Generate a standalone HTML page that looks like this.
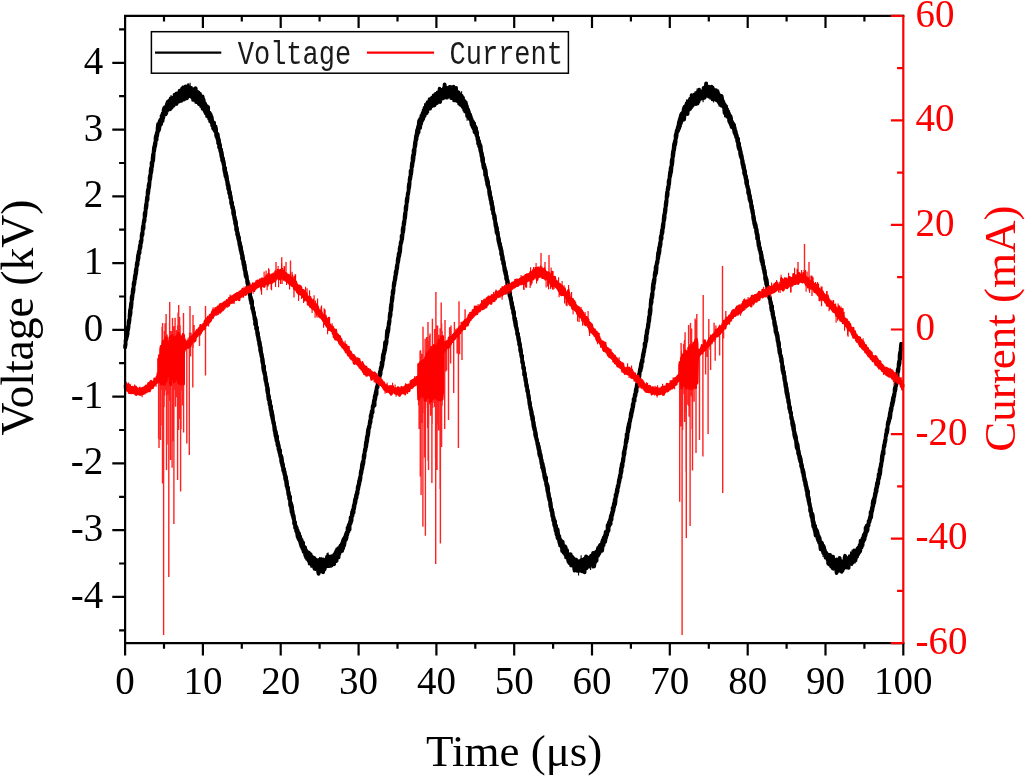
<!DOCTYPE html>
<html><head><meta charset="utf-8"><title>Voltage and Current</title>
<style>
html,body{margin:0;padding:0;background:#fff;}
body{width:1025px;height:778px;overflow:hidden;}
svg{display:block;}
</style></head>
<body>
<svg width="1025" height="778" viewBox="0 0 1025 778">
<rect width="1025" height="778" fill="#fff"/>
<path d="M125.1 344.4l0 3l0.5 -2.7l0 -4.3l0.5 -1.8l0 1.6l0.5 -1.9l0 -2.8l0.5 -3.6l0 4.5l0.5 -2.9l0 -4.7l0.5 -2.7l0 3.8l0.5 -3.9l0 -3.6l0.5 -2.8l0 3.7l0.5 -4.3l0 -3.4l0.5 -6.3l0 6.7l0.5 -3l0 -5.4l0.5 -4.8l0 5.4l0.5 -4.6l0 -6.2l0.5 -2.3l0 4.7l0.5 -4.4l0 -3.9l0.5 -3.3l0 4.7l0.5 -3.2l0 -6l0.5 -2.2l0 3.6l0.5 -2.6l0 -4.2l0.5 -3.5l0 4.7l0.5 -3.6l0 -4.4l0.5 -2.8l0 5.4l0.5 -5.3l0 -4l0.5 -2.6l0 3.9l0.5 -1.9l0 -4.4l0.5 -5l0 5.7l0.5 -2.9l0 -4.8l0.5 -2.1l0 3.5l0.5 -1.6l0 -4.5l0.5 -3.3l0 4l0.5 -2.3l0 -5.2l0.5 -0.9l0 2.8l0.5 -2.7l0 -4.9l0.5 -2.9l0 3l0.5 -1.3l0 -5.1l0.5 -3.7l0 3.8l0.5 -1.2l0 -5.3l0.5 -3.3l0 2.7l0.5 -1.7l0 -7l0.5 -1.5l0 4.5l0.5 -4.9l0 -3.2l0.5 -4.6l0 4.8l0.5 -3.2l0 -4.2l0.5 -4.5l0 4.3l0.5 -1.6l0 -7.6l0.5 -2.7l0 4.8l0.5 -4.3l0 -4.2l0.5 -2.4l0 4.7l0.5 -5.4l0 -4.7l0.5 -2.6l0 4.6l0.5 -3.7l0 -5.3l0.5 -3.1l0 5.5l0.5 -3.3l0 -7.3l0.5 -0.7l0 5l0.5 -5.8l0 -2.8l0.5 -4.1l0 7l0.5 -6l0 -3.2l0.5 -5.1l0 4.7l0.5 -3.7l0 -2.5l0.5 -3l0 4.1l0.5 -3.2l0 -5.6l0.5 -2.2l0 4.3l0.5 0.2l0 -6.2l0.5 -1.7l0 4.2l0.5 -3.5l0 -4.6l0.5 -4.2l0 7.4l0.5 -0.4l0 -5l0.5 -0.6l0 4.5l0.5 -3.6l0 -4.7l0.5 -1.1l0 4.9l0.5 -2.5l0 -3.3l0.5 -0.5l0 5.3l0.5 -4.4l0 -4.1l0.5 -0.4l0 4l0.5 1.5l0 -7.5l0.5 0.4l0 4.6l0.5 -2.7l0 -5.6l0.5 -2l0 7l0.5 -2.8l0 -4.9l0.5 -0.3l0 4.8l0.5 2.5l0 -5.9l0.5 -1.6l0 6.8l0.5 -2.4l0 -5.2l0.5 -2.7l0 7.5l0.5 -3l0 -5.9l0.5 0.6l0 6.9l0.5 -1.8l0 -6.5l0.5 0.3l0 6.5l0.5 -2.9l0 -4.7l0.5 0.4l0 8.6l0.5 -6.1l0 -4.9l0.5 1.4l0 4.8l0.5 3.2l0 -6.9l0.5 -3l0 6.8l0.5 1.6l0 -7.2l0.5 -0.9l0 4.6l0.5 3l0 -7.8l0.5 -1l0 6.7l0.5 -2l0 -7.1l0.5 1.4l0 6.1l0.5 -0.3l0 -5.8l0.5 1.3l0 3.9l0.5 2.6l0 -10.4l0.5 4.2l0 2.6l0.5 -0.2l0 -6.3l0.5 3.2l0 2.9l0.5 -0.4l0 -4.6l0.5 0.1l0 6.7l0.5 -4.6l0 -6.3l0.5 0.1l0 8.9l0.5 0.1l0 -6.9l0.5 -2.8l0 9.4l0.5 1.3l0 -9l0.5 -3.4l0 8.2l0.5 2.1l0 -7.8l0.5 -3.4l0 8.8l0.5 2l0 -7.4l0.5 -1.6l0 10.2l0.5 -4.2l0 -5.6l0.5 -0.1l0 6.3l0.5 -0.7l0 -8.9l0.5 0.7l0 9.7l0.5 1.7l0 -9.2l0.5 0.5l0 8.3l0.5 -4.7l0 -4.1l0.5 -3.2l0 10l0.5 -2l0 -7.2l0.5 1.3l0 7.2l0.5 -1l0 -7.2l0.5 0.7l0 8.5l0.5 -1.2l0 -7.3l0.5 0.1l0 7.5l0.5 0.4l0 -6.2l0.5 -0.3l0 8.2l0.5 -3.1l0 -5.3l0.5 1.7l0 9.1l0.5 -3.2l0 -5.4l0.5 -1.8l0 8l0.5 0.5l0 -5.5l0.5 -2.1l0 6.8l0.5 1.5l0 -10.6l0.5 3.1l0 10.9l0.5 -3.2l0 -6.3l0.5 -0.8l0 4.4l0.5 5.3l0 -9.1l0.5 1.4l0 5l0.5 2.9l0 -9.2l0.5 2.8l0 8.9l0.5 -1.3l0 -6.8l0.5 -2.2l0 10.2l0.5 -1.6l0 -5.5l0.5 0.7l0 8.5l0.5 -3.3l0 -2.9l0.5 -1.4l0 5.2l0.5 5l0 -12.4l0.5 3.5l0 4.5l0.5 2.5l0 -7.4l0.5 3.4l0 3.4l0.5 4.7l0 -7.4l0.5 0.1l0 6.9l0.5 2.4l0 -8.3l0.5 1.6l0 4.2l0.5 2.7l0 -7.4l0.5 0.5l0 9.9l0.5 -1.3l0 -5l0.5 -2.9l0 9.1l0.5 0.5l0 -4.6l0.5 0.8l0 5.9l0.5 -0.9l0 -5.2l0.5 3.5l0 5.1l0.5 -2.3l0 -4.7l0.5 2.8l0 5.3l0.5 0.4l0 -6l0.5 3.4l0 5.5l0.5 0.2l0 -4.5l0.5 0.9l0 6.2l0.5 0.6l0 -5.5l0.5 -0.8l0 5.5l0.5 2.4l0 -4.7l0.5 0.7l0 4.7l0.5 -0.2l0 -4.6l0.5 2.9l0 5.7l0.5 1.9l0 -3l0.5 -0.4l0 3.4l0.5 2.7l0 -5.9l0.5 4l0 5.5l0.5 0.4l0 -4.9l0.5 2.1l0 6.6l0.5 0.4l0 -4.4l0.5 1.8l0 4.7l0.5 1.9l0 -3.1l0.5 0.5l0 4.8l0.5 3l0 -5.3l0.5 3.2l0 5.1l0.5 1.3l0 -4l0.5 1.3l0 3.3l0.5 3l0 -4l0.5 3.2l0 4.6l0.5 3.1l0 -3.5l0.5 -0.6l0 6.3l0.5 2.6l0 -4.9l0.5 1.3l0 4.3l0.5 2.6l0 -4.7l0.5 4l0 2.3l0.5 3.8l0 -4.1l0.5 3l0 4.2l0.5 1.1l0 -4.4l0.5 3.8l0 4l0.5 1.1l0 -3l0.5 1.5l0 5l0.5 0.8l0 -2.8l0.5 3.3l0 4.1l0.5 1.7l0 -3.2l0.5 1l0 5.2l0.5 0.9l0 -2.4l0.5 1.1l0 5.6l0.5 2.1l0 -5.3l0.5 3.2l0 4.1l0.5 2.9l0 -3.5l0.5 2.6l0 4.3l0.5 1.6l0 -4.4l0.5 2.4l0 6.3l0.5 1.7l0 -4.1l0.5 2.5l0 4.6l0.5 1.9l0 -3.7l0.5 2.3l0 3.7l0.5 1.9l0 -3.6l0.5 1.5l0 4.2l0.5 3.5l0 -3.7l0.5 1.7l0 3.2l0.5 3.7l0 -4.9l0.5 2.1l0 4.1l0.5 2.6l0 -3.8l0.5 2.9l0 5.1l0.5 0.7l0 -4.2l0.5 3.5l0 2.8l0.5 3.6l0 -4l0.5 1.1l0 4.9l0.5 3.2l0 -5.8l0.5 4.1l0 3l0.5 4.6l0 -5.3l0.5 2.8l0 3.6l0.5 1.1l0 -3l0.5 4.4l0 2l0.5 2.6l0 -3.4l0.5 2.6l0 3.6l0.5 2.8l0 -3.7l0.5 2.1l0 3l0.5 3.3l0 -7l0.5 6.1l0 3.5l0.5 3.3l0 -4.1l0.5 2.1l0 4.7l0.5 0l0 -3.5l0.5 1.9l0 6.3l0.5 1.8l0 -2.7l0.5 1.4l0 2.5l0.5 2.8l0 -2.3l0.5 1.6l0 2.5l0.5 4l0 -2.9l0.5 1.5l0 6.3l0.5 0.6l0 -5.7l0.5 4.4l0 4.9l0.5 1l0 -1.5l0.5 -0.8l0 5.4l0.5 2.9l0 -3.9l0.5 2.5l0 3.4l0.5 3.2l0 -3.9l0.5 4.3l0 2.3l0.5 2.6l0 -4.5l0.5 3.1l0 5.2l0.5 2.3l0 -5.4l0.5 4.8l0 2.5l0.5 2.8l0 -3.4l0.5 3.1l0 4l0.5 2.8l0 -5l0.5 4.5l0 4.3l0.5 3.6l0 -5.3l0.5 0.7l0 6.2l0.5 2.1l0 -3.1l0.5 2.1l0 4.9l0.5 2.7l0 -4.9l0.5 3.7l0 2.8l0.5 3.3l0 -3.1l0.5 1.7l0 5.4l0.5 2.9l0 -5.8l0.5 3l0 6l0.5 3.6l0 -4.7l0.5 1.9l0 2.9l0.5 4.9l0 -4.8l0.5 1.9l0 3.9l0.5 4.3l0 -4.8l0.5 1.2l0 5.1l0.5 3.9l0 -5.1l0.5 2.1l0 4.5l0.5 2.8l0 -5.1l0.5 4.7l0 2.7l0.5 1.9l0 -2.5l0.5 2l0 3.2l0.5 4.5l0 -4.9l0.5 3.8l0 3.3l0.5 3.1l0 -5.6l0.5 2.4l0 4.5l0.5 3.2l0 -4.6l0.5 -0.2l0 5.4l0.5 3.9l0 -4.3l0.5 1.9l0 2.6l0.5 4.3l0 -5l0.5 3.3l0 2.6l0.5 2.5l0 -2l0.5 -1.2l0 5.1l0.5 2.1l0 -2.1l0.5 0.4l0 5l0.5 2.4l0 -6.1l0.5 4l0 3.9l0.5 2.1l0 -3.8l0.5 1.9l0 4.9l0.5 1.6l0 -3.4l0.5 0.8l0 3.9l0.5 2.2l0 -3.8l0.5 3.3l0 3.8l0.5 1.9l0 -4.5l0.5 1.9l0 4.2l0.5 4.6l0 -6l0.5 3.4l0 3.1l0.5 2.7l0 -2.7l0.5 0.6l0 5.3l0.5 2.5l0 -3.7l0.5 2.3l0 4.7l0.5 0.8l0 -3l0.5 0.2l0 8.3l0.5 1.5l0 -4l0.5 1l0 4.3l0.5 4.7l0 -7.5l0.5 2.5l0 5.7l0.5 2.5l0 -4.9l0.5 4.4l0 1.8l0.5 2.3l0 -4l0.5 3.6l0 4.8l0.5 0.7l0 -2.6l0.5 0.5l0 5.8l0.5 0.1l0 -2.7l0.5 1.3l0 4.3l0.5 1l0 -4.6l0.5 3.3l0 2.6l0.5 3.5l0 -6.5l0.5 1.9l0 5.5l0.5 1.4l0 -4.2l0.5 -1.5l0 5.2l0.5 2.3l0 -5l0.5 0.4l0 4.8l0.5 2.9l0 -4.2l0.5 -0.7l0 6.3l0.5 1.6l0 -7l0.5 2.2l0 4.8l0.5 2.1l0 -5.9l0.5 -0.7l0 5.2l0.5 4.1l0 -6.2l0.5 2.6l0 2.9l0.5 0.6l0 -3.6l0.5 -0.8l0 7.4l0.5 1.6l0 -6.8l0.5 0.8l0 7.2l0.5 -1.8l0 -4.4l0.5 1l0 6.8l0.5 -2.3l0 -3.8l0.5 0.9l0 4.6l0.5 2.3l0 -8.4l0.5 4.2l0 3.2l0.5 3.4l0 -7.4l0.5 -0.3l0 7.4l0.5 0.5l0 -9.2l0.5 2.8l0 7.3l0.5 -0.4l0 -4l0.5 -1.8l0 7.4l0.5 -1l0 -5.7l0.5 -1.6l0 7.6l0.5 -0.5l0 -3.8l0.5 -2.7l0 9.6l0.5 1.4l0 -8.7l0.5 1.1l0 6.3l0.5 -0.2l0 -6.8l0.5 -0.9l0 6.8l0.5 0.5l0 -4.7l0.5 -0.3l0 7.2l0.5 -1.8l0 -3.6l0.5 -3.4l0 11.4l0.5 2.1l0 -9.4l0.5 -2.3l0 5.1l0.5 1.1l0 -8.7l0.5 3.1l0 8.3l0.5 -2.2l0 -5.9l0.5 -3.7l0 9.8l0.5 2.4l0 -7.6l0.5 -1.4l0 8l0.5 0.9l0 -6.7l0.5 -5.2l0 12.9l0.5 -3.1l0 -8.3l0.5 1.5l0 5.6l0.5 1.4l0 -6.8l0.5 -0.8l0 5.4l0.5 -0.1l0 -6.8l0.5 0.9l0 4.1l0.5 0.8l0 -7.4l0.5 -2.1l0 7.4l0.5 0l0 -3.8l0.5 -4.1l0 9.9l0.5 -2.1l0 -5.6l0.5 -1.3l0 9.2l0.5 -1.8l0 -6.5l0.5 -0.8l0 8.7l0.5 -2.1l0 -5.3l0.5 -1.5l0 8.9l0.5 -3.1l0 -6.5l0.5 2.8l0 4.3l0.5 -1.3l0 -5.4l0.5 0.4l0 6.3l0.5 0.2l0 -6.1l0.5 -2.7l0 9.6l0.5 -4l0 -5.2l0.5 -1.6l0 7.2l0.5 -0.2l0 -5.6l0.5 -3.7l0 9.9l0.5 -0.3l0 -7.1l0.5 -4.5l0 8.9l0.5 -1.7l0 -6.5l0.5 0.4l0 6.9l0.5 0.1l0 -7.7l0.5 -0.6l0 5.5l0.5 -1.3l0 -4.7l0.5 -2l0 4.5l0.5 -1.5l0 -4l0.5 0.6l0 3.4l0.5 -0.8l0 -4l0.5 -1.5l0 7.8l0.5 -2.1l0 -5.4l0.5 -3.4l0 8.2l0.5 -2.8l0 -6.7l0.5 0.2l0 6.6l0.5 -2.4l0 -5.6l0.5 -0.9l0 4l0.5 -0.5l0 -4.7l0.5 -1.7l0 5.6l0.5 -1.7l0 -5.3l0.5 -0.3l0 3.3l0.5 -2.1l0 -5.7l0.5 -0.3l0 3.9l0.5 0.1l0 -6l0.5 -1.1l0 5.1l0.5 0.3l0 -5.8l0.5 -2.5l0 3.2l0.5 -1.1l0 -6.1l0.5 1.5l0 3.3l0.5 -1.8l0 -4l0.5 -4.5l0 4.9l0.5 -1.4l0 -4.7l0.5 -1.5l0 3.7l0.5 -0.3l0 -5.9l0.5 -2.1l0 4.4l0.5 -3.6l0 -3.1l0.5 -3.2l0 4.8l0.5 -2.2l0 -1.7l0.5 -5l0 4.1l0.5 -1.5l0 -3.3l0.5 -2.8l0 3.4l0.5 -1.7l0 -5.2l0.5 -2.1l0 3.9l0.5 -3.1l0 -1.6l0.5 -4.2l0 4.4l0.5 -3.1l0 -3.2l0.5 -2l0 3.9l0.5 -3.9l0 -3.5l0.5 -3l0 3.8l0.5 -2.4l0 -3.1l0.5 -4.7l0 5.3l0.5 -2.6l0 -4.5l0.5 -1.4l0 3.9l0.5 -2.9l0 -5.5l0.5 -2.2l0 4.4l0.5 -3.3l0 -3.6l0.5 -3l0 3.1l0.5 -2.3l0 -4l0.5 -3.9l0 5.6l0.5 -3.4l0 -4.8l0.5 -3.1l0 6l0.5 -5l0 -3.4l0.5 -4.3l0 6.6l0.5 -4.5l0 -3.2l0.5 -2.2l0 2.7l0.5 -1.8l0 -3.2l0.5 -3.2l0 3.6l0.5 -2l0 -5.6l0.5 -2.1l0 4.1l0.5 -2l0 -4.5l0.5 -1.3l0 2.7l0.5 -0.7l0 -5.8l0.5 -1.7l0 2.3l0.5 -0.8l0 -3.8l0.5 -2.9l0 4.3l0.5 1.3l0 -8.4l0.5 -2.1l0 5.1l0.5 -3.6l0 -3.3l0.5 -2.6l0 4.7l0.5 -1.4l0 -5.9l0.5 -1.7l0 1.6l0.5 -0.6l0 -3.9l0.5 -2.1l0 3.3l0.5 -2.1l0 -4.2l0.5 -1.7l0 3.8l0.5 -3.2l0 -3.4l0.5 -2.5l0 4.4l0.5 -1.8l0 -5.3l0.5 -1.8l0 3.4l0.5 -2.1l0 -5.6l0.5 0l0 4.3l0.5 -3.2l0 -5.8l0.5 -3.7l0 6.7l0.5 -3.1l0 -3.5l0.5 -4.2l0 4.5l0.5 -2.4l0 -3.1l0.5 -6.8l0 8.5l0.5 -4.2l0 -2.7l0.5 -3l0 3.9l0.5 -2.7l0 -5l0.5 -6.4l0 7l0.5 -3.7l0 -2.2l0.5 -4.5l0 5.1l0.5 -4l0 -4.2l0.5 -3l0 3.8l0.5 -3.7l0 -4.8l0.5 -3.7l0 4.6l0.5 -2.4l0 -6.3l0.5 -4.4l0 6.4l0.5 -4.7l0 -4.1l0.5 -5.2l0 5l0.5 -4.1l0 -5.2l0.5 -2.2l0 4l0.5 -4l0 -4.3l0.5 -3.7l0 3.9l0.5 -3.1l0 -2l0.5 -4.6l0 4.2l0.5 -3.2l0 -5l0.5 -1.8l0 4.3l0.5 -3.8l0 -3.6l0.5 -2.6l0 4.4l0.5 -5.4l0 -2.6l0.5 -3.6l0 4.9l0.5 -3.7l0 -4.6l0.5 -1.5l0 4.2l0.5 -2.9l0 -5l0.5 -2.6l0 5.7l0.5 -7l0 -2.2l0.5 -1.6l0 2.4l0.5 -2.2l0 -5.7l0.5 -0.9l0 4.8l0.5 -5.5l0 -4.6l0.5 -2.6l0 5.6l0.5 -4.1l0 -5.1l0.5 -2.5l0 4.2l0.5 -4.5l0 -3.6l0.5 -4.1l0 5.4l0.5 -5.3l0 -5.3l0.5 -2.2l0 4.9l0.5 -5.8l0 -4.1l0.5 -2.8l0 4.6l0.5 -4.1l0 -3.3l0.5 -2.7l0 2.3l0.5 -3.7l0 -3.4l0.5 -4l0 5.1l0.5 -4.9l0 -4l0.5 -2.8l0 3l0.5 -3l0 -5.9l0.5 -0.7l0 4.5l0.5 -4.5l0 -3.7l0.5 -3.8l0 4.5l0.5 -3.7l0 -5.6l0.5 -3l0 6.7l0.5 -3.8l0 -7.1l0.5 -1.6l0 6.1l0.5 -4.8l0 -4l0.5 -4.6l0 5.2l0.5 -3.3l0 -4.2l0.5 -4l0 5.3l0.5 -2.2l0 -4.1l0.5 -4.5l0 6.2l0.5 -2l0 -4.1l0.5 -3.5l0 6.6l0.5 -1l0 -5.9l0.5 -5.5l0 8l0.5 -1.1l0 -6.2l0.5 -2.6l0 9.3l0.5 -4.8l0 -4l0.5 -1l0 5.6l0.5 -3.4l0 -2.9l0.5 -3l0 6.3l0.5 -2.5l0 -5.5l0.5 0l0 6.4l0.5 -2.9l0 -6.3l0.5 0.5l0 5.9l0.5 -0.5l0 -8.4l0.5 0.4l0 3.9l0.5 -0.9l0 -4.3l0.5 1.7l0 3l0.5 1.8l0 -5.8l0.5 -4.1l0 4.9l0.5 -0.4l0 -5.6l0.5 0l0 7l0.5 -0.4l0 -5.6l0.5 -1.8l0 4.6l0.5 -1.4l0 -5.5l0.5 2.6l0 6.9l0.5 -3.3l0 -4.6l0.5 -1.4l0 6.9l0.5 0.2l0 -6.4l0.5 0l0 5.1l0.5 0.7l0 -5.6l0.5 -2.1l0 4l0.5 1.9l0 -8.6l0.5 2.9l0 7.3l0.5 -0.4l0 -8.4l0.5 -0.7l0 8.2l0.5 -1.4l0 -8.9l0.5 1.6l0 7.8l0.5 -2.9l0 -6.3l0.5 -0.4l0 9.2l0.5 -2.3l0 -8.2l0.5 0.1l0 6.5l0.5 2.9l0 -9.4l0.5 2l0 6.1l0.5 0.4l0 -12.4l0.5 2.9l0 10.4l0.5 -3.1l0 -8.2l0.5 3l0 5.3l0.5 -2.4l0 -3.2l0.5 -3.4l0 7.5l0.5 -0.7l0 -5.1l0.5 1.1l0 5.5l0.5 -1.4l0 -7.2l0.5 -2.2l0 6.8l0.5 2.4l0 -12.4l0.5 4.3l0 7.8l0.5 0.6l0 -7.4l0.5 -1.2l0 9.1l0.5 -1.3l0 -7.4l0.5 1.4l0 7.5l0.5 -3.8l0 -6l0.5 3.1l0 3.7l0.5 0.5l0 -7.7l0.5 -0.2l0 5.9l0.5 2.7l0 -3.9l0.5 -5.1l0 7.9l0.5 1.8l0 -7.8l0.5 -0.3l0 9.6l0.5 -3.4l0 -7.4l0.5 0l0 9.4l0.5 0.9l0 -8l0.5 2.9l0 2.7l0.5 -0.9l0 -7.6l0.5 3.9l0 9.8l0.5 -2.4l0 -7.6l0.5 2.1l0 4.1l0.5 -1.3l0 -3.6l0.5 -3.8l0 9.1l0.5 3.4l0 -8.7l0.5 0l0 9.4l0.5 -2.6l0 -4.5l0.5 0.8l0 3.3l0.5 2l0 -7.7l0.5 1.3l0 10l0.5 -1.5l0 -7.3l0.5 3.1l0 6.3l0.5 0.5l0 -8.7l0.5 2.7l0 4.3l0.5 0.8l0 -8.3l0.5 3.4l0 5.4l0.5 2.4l0 -9.7l0.5 2.7l0 5.8l0.5 1.3l0 -5.9l0.5 -0.5l0 9.3l0.5 -1.2l0 -5.5l0.5 -0.1l0 8.5l0.5 -1.1l0 -8.3l0.5 1.9l0 5.9l0.5 1.5l0 -6l0.5 2l0 8.7l0.5 -2.3l0 -3.7l0.5 -0.8l0 5.1l0.5 2.2l0 -5.8l0.5 2.4l0 4.9l0.5 0.7l0 -4.7l0.5 0.5l0 4.9l0.5 0.4l0 -3.7l0.5 2l0 2.9l0.5 3.7l0 -5.8l0.5 1.6l0 3.6l0.5 2.8l0 -4.1l0.5 -1.1l0 4.5l0.5 2.2l0 -4.4l0.5 -1l0 5.7l0.5 3.3l0 -6.5l0.5 0.9l0 5.3l0.5 0l0 -4.5l0.5 0.7l0 6l0.5 1.6l0 -4.6l0.5 1.8l0 3.4l0.5 3.7l0 -2.9l0.5 0.6l0 6.1l0.5 -0.5l0 -2.7l0.5 0.4l0 5.3l0.5 1.1l0 -3.9l0.5 1.7l0 4l0.5 2.5l0 -5.9l0.5 5l0 2.5l0.5 3.4l0 -4.3l0.5 2.2l0 5.6l0.5 2.3l0 -5.8l0.5 2.2l0 5.6l0.5 3.7l0 -4.5l0.5 0.7l0 4.1l0.5 1.2l0 -3.4l0.5 2.7l0 6.1l0.5 -0.1l0 -5.3l0.5 4.8l0 3.1l0.5 3.4l0 -4l0.5 1.7l0 5.1l0.5 1.9l0 -5.4l0.5 2.3l0 4l0.5 2l0 -2.8l0.5 2.5l0 3.6l0.5 3.8l0 -5.1l0.5 2.8l0 4l0.5 3l0 -4l0.5 2l0 4.5l0.5 2.3l0 -4.4l0.5 2.5l0 6l0.5 1.1l0 -4.5l0.5 2.9l0 4.7l0.5 1.1l0 -2.3l0.5 3.5l0 2.2l0.5 1.8l0 -4.2l0.5 3.6l0 3.3l0.5 4.2l0 -4.2l0.5 2.2l0 2.9l0.5 5.2l0 -6.1l0.5 2.1l0 4.4l0.5 1.9l0 -3.7l0.5 3.8l0 3.6l0.5 2.9l0 -4.2l0.5 2.5l0 3.4l0.5 2.6l0 -3l0.5 1l0 3.8l0.5 2l0 -3.2l0.5 2.4l0 5.1l0.5 1.2l0 -4.8l0.5 4.4l0 4.6l0.5 0.9l0 -4.3l0.5 4l0 3.3l0.5 1.4l0 -3.5l0.5 2.6l0 3.3l0.5 3.8l0 -4l0.5 2.5l0 3.3l0.5 2l0 -4l0.5 2.3l0 5.5l0.5 1.4l0 -4.3l0.5 3.9l0 3.1l0.5 3.4l0 -5.6l0.5 3.2l0 2.9l0.5 3.4l0 -3l0.5 2.2l0 3.5l0.5 3.3l0 -5.4l0.5 2.5l0 4.1l0.5 2.6l0 -3.4l0.5 2.2l0 3.2l0.5 3.6l0 -3.7l0.5 1.7l0 4.7l0.5 1.2l0 -3l0.5 2.2l0 4l0.5 1.9l0 -3.6l0.5 1.6l0 5.6l0.5 2.9l0 -2.7l0.5 0.2l0 4.6l0.5 3.4l0 -5.5l0.5 4.2l0 2.3l0.5 2.6l0 -2.5l0.5 2.7l0 3.8l0.5 1.3l0 -2.2l0.5 0.7l0 4.1l0.5 3l0 -3.8l0.5 2.9l0 4.4l0.5 1.2l0 -2.8l0.5 2.3l0 5l0.5 2l0 -3.8l0.5 3.4l0 3.3l0.5 2.4l0 -2.1l0.5 0.6l0 6.2l0.5 1.4l0 -2.2l0.5 2.5l0 4.1l0.5 1.4l0 -2.6l0.5 1.5l0 6.7l0.5 0.9l0 -3.4l0.5 2.1l0 3.6l0.5 3.6l0 -3.5l0.5 2.9l0 4.2l0.5 1.9l0 -2.9l0.5 2.2l0 4.3l0.5 1.3l0 -2.7l0.5 2.3l0 3.2l0.5 3.5l0 -3.5l0.5 3.4l0 2.3l0.5 4.5l0 -3.6l0.5 2.4l0 3.6l0.5 2.5l0 -2.9l0.5 2.6l0 3l0.5 3l0 -4.4l0.5 4l0 3.3l0.5 2.1l0 -4.7l0.5 2.4l0 4.7l0.5 3.9l0 -5.1l0.5 3.9l0 3.1l0.5 1.5l0 -3.1l0.5 3.4l0 3.7l0.5 2.4l0 -4.6l0.5 3.5l0 2.6l0.5 2.2l0 -2.1l0.5 1.7l0 2.3l0.5 2.9l0 -2.6l0.5 0.9l0 3.9l0.5 2.4l0 -4.2l0.5 2.3l0 5.5l0.5 2.3l0 -5.7l0.5 3.5l0 2.6l0.5 2.6l0 -4.5l0.5 3.3l0 3.7l0.5 3l0 -4.6l0.5 3.5l0 4.6l0.5 0.3l0 -4.6l0.5 3l0 3.4l0.5 2.7l0 -5l0.5 3.2l0 4.3l0.5 3.1l0 -4.9l0.5 3l0 3.2l0.5 1.8l0 -4.4l0.5 0.7l0 6.3l0.5 2.6l0 -3.7l0.5 1.7l0 4.6l0.5 2.8l0 -6.4l0.5 3.2l0 5.1l0.5 3.6l0 -4.7l0.5 3.4l0 3.1l0.5 1.7l0 -3l0.5 1.8l0 4.8l0.5 3.1l0 -5.2l0.5 4.6l0 3.3l0.5 1.6l0 -3l0.5 1l0 5.4l0.5 1.9l0 -5.2l0.5 4.7l0 3.3l0.5 1.6l0 -4.3l0.5 2.7l0 4.6l0.5 1.8l0 -5.9l0.5 0.9l0 6l0.5 3.3l0 -4.6l0.5 -0.4l0 5.9l0.5 3.1l0 -6.5l0.5 1.9l0 5.1l0.5 3.1l0 -8.9l0.5 4.1l0 4.2l0.5 0l0 -2.7l0.5 1.3l0 4.2l0.5 3l0 -5.1l0.5 1l0 6.1l0.5 -2.5l0 -2.9l0.5 0.5l0 3.4l0.5 3.7l0 -5.3l0.5 0.9l0 7.9l0.5 -1.1l0 -8.4l0.5 3.7l0 4.9l0.5 2.5l0 -7.1l0.5 2.7l0 2.7l0.5 1.8l0 -6.2l0.5 3.9l0 4.1l0.5 -0.1l0 -7.7l0.5 6.8l0 3.8l0.5 -0.1l0 -5.4l0.5 -1.9l0 7.1l0.5 1.3l0 -5.1l0.5 1.1l0 5.6l0.5 2l0 -7.9l0.5 0.7l0 5.4l0.5 3.1l0 -8.4l0.5 1.9l0 4.1l0.5 3l0 -9.8l0.5 3.4l0 8l0.5 -3l0 -4.8l0.5 -1.3l0 8l0.5 0.5l0 -5.8l0.5 2.2l0 4.1l0.5 -0.4l0 -6.8l0.5 3.6l0 6.1l0.5 2.7l0 -8.7l0.5 -0.8l0 6.9l0.5 -1l0 -6.2l0.5 -1.2l0 9.1l0.5 -0.1l0 -7.3l0.5 -0.2l0 9.7l0.5 -2.5l0 -6l0.5 -0.7l0 6.5l0.5 2.7l0 -8.2l0.5 -1.4l0 6.6l0.5 0.9l0 -3.4l0.5 -1.2l0 3.9l0.5 1.9l0 -5.3l0.5 -4.5l0 8.9l0.5 -1.3l0 -7.7l0.5 4.7l0 6.7l0.5 -0.8l0 -9.2l0.5 0.3l0 5.4l0.5 1.2l0 -8.4l0.5 -0.8l0 6.1l0.5 7.2l0 -10.1l0.5 -3.2l0 10.5l0.5 -4.2l0 -4.9l0.5 -4.1l0 10.1l0.5 1.7l0 -8.2l0.5 -0.9l0 7.2l0.5 -0.3l0 -4.5l0.5 -3.9l0 7.8l0.5 -2.5l0 -4.4l0.5 1.3l0 6.8l0.5 -3.1l0 -3.9l0.5 -2.1l0 5.8l0.5 1.6l0 -6.7l0.5 -2.6l0 7.6l0.5 -0.6l0 -6.4l0.5 3.1l0 3.7l0.5 -0.7l0 -6l0.5 -3.3l0 13.7l0.5 -4.4l0 -9.1l0.5 3.1l0 10l0.5 -2.8l0 -9.6l0.5 0.9l0 7.6l0.5 -0.7l0 -8.5l0.5 -1.4l0 5.1l0.5 3.9l0 -8.4l0.5 1l0 3.4l0.5 -1.2l0 -5.7l0.5 -2l0 7.7l0.5 -1.1l0 -5.6l0.5 -1.2l0 6.1l0.5 -1l0 -6.8l0.5 -0.9l0 6.4l0.5 -0.2l0 -3.9l0.5 -2.6l0 4.1l0.5 0l0 -3.3l0.5 -3.6l0 8.9l0.5 -4.4l0 -6.3l0.5 0.2l0 3.7l0.5 1.2l0 -7.6l0.5 -0.8l0 4.9l0.5 0.1l0 -3.5l0.5 -3.6l0 7l0.5 -2.8l0 -7.1l0.5 1.7l0 4.2l0.5 -3.4l0 -2.6l0.5 -1.2l0 4.4l0.5 -3.8l0 -6l0.5 0.5l0 5.8l0.5 -1l0 -6.7l0.5 -1.8l0 4.4l0.5 -1.1l0 -3.4l0.5 -2.4l0 3.6l0.5 0.9l0 -6.5l0.5 -2.4l0 5.2l0.5 -0.8l0 -5.3l0.5 -2.3l0 3.8l0.5 -1.9l0 -5.9l0.5 -0.5l0 4.5l0.5 -2l0 -4.3l0.5 -2.8l0 4.8l0.5 -3.6l0 -3.8l0.5 -1.6l0 6l0.5 -4l0 -6.1l0.5 -0.1l0 3l0.5 -2.2l0 -3.8l0.5 -2.7l0 4.5l0.5 -2.2l0 -4.8l0.5 -1.1l0 2.9l0.5 -2.6l0 -3.4l0.5 -2.8l0 3.8l0.5 -2.3l0 -3.5l0.5 -2.5l0 3.6l0.5 -1.3l0 -5.8l0.5 -3.5l0 5.8l0.5 -2.7l0 -5.5l0.5 -2l0 4.1l0.5 -1.7l0 -3.4l0.5 -4.3l0 4l0.5 -3.3l0 -5.7l0.5 -2l0 4.6l0.5 -2.5l0 -3.8l0.5 -3.1l0 3.3l0.5 -3.1l0 -3.6l0.5 -3.8l0 4.1l0.5 -1.4l0 -7.6l0.5 0.8l0 4.3l0.5 -4.6l0 -4.1l0.5 -3.5l0 5.1l0.5 -2.7l0 -4.6l0.5 -1.9l0 4.8l0.5 -4.6l0 -1.7l0.5 -2.7l0 2.8l0.5 -3.6l0 -2.5l0.5 -3l0 4.9l0.5 -3.3l0 -3.8l0.5 -1.6l0 3.5l0.5 -2.7l0 -4.6l0.5 -1.6l0 4.2l0.5 -3.8l0 -4.8l0.5 0.2l0 2.2l0.5 -0.3l0 -5l0.5 -2.2l0 3l0.5 -1.5l0 -4.4l0.5 -2.3l0 3.9l0.5 -1.2l0 -4.6l0.5 -3.2l0 3.7l0.5 -0.9l0 -3.8l0.5 -2.1l0 3.9l0.5 -3.4l0 -3.7l0.5 -3.6l0 4.9l0.5 -3.7l0 -2.9l0.5 -3.3l0 3.2l0.5 -0.9l0 -4.3l0.5 -3.3l0 5.4l0.5 -2.4l0 -4.5l0.5 -2.3l0 3.3l0.5 -1.1l0 -4.5l0.5 -3.7l0 3.7l0.5 -2.4l0 -2.8l0.5 -2.9l0 3.3l0.5 -4l0 -4.8l0.5 0.5l0 3l0.5 -4.2l0 -2.9l0.5 -4.7l0 6.6l0.5 -3.4l0 -6.1l0.5 -2.9l0 4.7l0.5 -4.2l0 -1.8l0.5 -4.7l0 4.5l0.5 -3.7l0 -4l0.5 -3.9l0 5.5l0.5 -4.9l0 -5.1l0.5 -3.1l0 6l0.5 -4.2l0 -6.1l0.5 -5.6l0 5.6l0.5 -2.2l0 -5.5l0.5 -3.3l0 4.7l0.5 -3.3l0 -6.5l0.5 -4.8l0 6.4l0.5 -1.8l0 -7.2l0.5 -1.8l0 4.6l0.5 -3.7l0 -4.9l0.5 -3.4l0 4.2l0.5 -1.9l0 -6.2l0.5 -2.1l0 7.7l0.5 -5.5l0 -3.8l0.5 -3l0 2.8l0.5 -1.8l0 -3.4l0.5 -6l0 6.4l0.5 -3.6l0 -3.4l0.5 -4.8l0 6.7l0.5 -3.9l0 -4l0.5 -3.7l0 4.6l0.5 -2.9l0 -6.5l0.5 -2.2l0 4.5l0.5 -1.3l0 -5.8l0.5 -3.3l0 4.6l0.5 -2.3l0 -5.2l0.5 -3.4l0 5l0.5 -4.3l0 -3.7l0.5 -5.6l0 6l0.5 -2.7l0 -4.2l0.5 -5.2l0 4.9l0.5 -3.5l0 -5.2l0.5 -3.7l0 5l0.5 -4.8l0 -4.4l0.5 -4.8l0 5.2l0.5 -2.3l0 -5.6l0.5 -2.9l0 3.5l0.5 -2.5l0 -6l0.5 -2.2l0 5.4l0.5 -6.5l0 -1.9l0.5 -4.5l0 4.9l0.5 -3l0 -5.4l0.5 -1.6l0 5.8l0.5 -6.2l0 -4.7l0.5 -2.9l0 6.4l0.5 -4.8l0 -5.4l0.5 -4l0 5.9l0.5 -4.4l0 -3.5l0.5 -5l0 6.4l0.5 -4.1l0 -3.6l0.5 -2.2l0 4.7l0.5 -3l0 -6.5l0.5 -2l0 4.6l0.5 -2.4l0 -4.7l0.5 -1.2l0 3l0.5 -1.6l0 -3.2l0.5 -1.6l0 4.5l0.5 -3l0 -3.5l0.5 -2.9l0 7.2l0.5 -2.5l0 -6.2l0.5 -1.6l0 4.9l0.5 0.6l0 -7.1l0.5 -2l0 8l0.5 -3.6l0 -5.4l0.5 -0.6l0 7.1l0.5 -2.4l0 -3.7l0.5 -2.4l0 6.3l0.5 -3.7l0 -4.8l0.5 -2l0 11.9l0.5 -5.1l0 -7.8l0.5 2l0 3.6l0.5 -0.7l0 -5.7l0.5 -0.4l0 3.7l0.5 1.1l0 -6.8l0.5 -0.1l0 6.5l0.5 4.3l0 -10.5l0.5 -2.1l0 7.9l0.5 0.7l0 -7.9l0.5 -1.5l0 5.4l0.5 -0.2l0 -4.6l0.5 -2.7l0 10.4l0.5 -2.7l0 -5.2l0.5 -0.4l0 4.2l0.5 1.1l0 -10.8l0.5 2l0 8l0.5 0.6l0 -6.2l0.5 -3.5l0 7l0.5 -0.1l0 -6.4l0.5 -1l0 7.7l0.5 0.2l0 -9.2l0.5 0.1l0 8l0.5 1.3l0 -8.1l0.5 -0.4l0 9l0.5 -2.3l0 -8.5l0.5 -0.8l0 5.9l0.5 5l0 -9.4l0.5 -1.6l0 6.2l0.5 3l0 -8.6l0.5 -3.4l0 8.6l0.5 1.2l0 -5.1l0.5 -1.8l0 5.5l0.5 0.4l0 -4.8l0.5 -2l0 5.2l0.5 1.6l0 -6.7l0.5 1l0 4.4l0.5 1l0 -7l0.5 -0.5l0 6.3l0.5 -1.6l0 -7.6l0.5 2.9l0 3l0.5 4.1l0 -8.3l0.5 -1.5l0 8.7l0.5 -2l0 -5.3l0.5 -6l0 11.8l0.5 -2.7l0 -2.8l0.5 -2.4l0 8.4l0.5 -0.5l0 -5.3l0.5 -0.4l0 6.5l0.5 -0.1l0 -9.3l0.5 1.7l0 8.4l0.5 -0.9l0 -7.4l0.5 0.6l0 7.6l0.5 -1.8l0 -5.5l0.5 0.7l0 4.3l0.5 -2.1l0 -5.6l0.5 3.2l0 6.6l0.5 3l0 -12.1l0.5 2.8l0 4l0.5 3.1l0 -5.6l0.5 -1.4l0 8.6l0.5 0.2l0 -7.9l0.5 0.4l0 5.7l0.5 -0.2l0 -6.9l0.5 0l0 10l0.5 -1.9l0 -6.1l0.5 2.1l0 4.8l0.5 0.3l0 -7.7l0.5 2.3l0 7.4l0.5 -2.4l0 -5l0.5 1.4l0 7.3l0.5 0.8l0 -5.6l0.5 -1.8l0 4.3l0.5 1.7l0 -4.6l0.5 -0.9l0 9.1l0.5 -0.2l0 -9.5l0.5 2.7l0 6.2l0.5 -0.5l0 -4.1l0.5 1.1l0 5.4l0.5 0.2l0 -4.5l0.5 3.4l0 2.2l0.5 5l0 -8.5l0.5 0.6l0 5.9l0.5 0.3l0 -4.4l0.5 -0.6l0 5.1l0.5 4.4l0 -6.7l0.5 0.8l0 6.8l0.5 -0.8l0 -2.6l0.5 -2.2l0 6l0.5 0.5l0 -4.9l0.5 1.4l0 6.5l0.5 1.6l0 -7.3l0.5 1.7l0 6.4l0.5 0l0 -6.7l0.5 2.2l0 3.2l0.5 5.4l0 -6l0.5 0.7l0 3.2l0.5 1.4l0 -3.1l0.5 0l0 4.6l0.5 0.9l0 -4.2l0.5 0.2l0 6.1l0.5 2.2l0 -5.9l0.5 3.4l0 3.1l0.5 1.6l0 -4.4l0.5 2.9l0 3.4l0.5 -0.1l0 -2.4l0.5 2.6l0 3.2l0.5 1.7l0 -3.4l0.5 -0.2l0 6.6l0.5 2.8l0 -5.2l0.5 0.4l0 6.3l0.5 0.4l0 -3l0.5 2.3l0 3.9l0.5 2.8l0 -4.8l0.5 3.3l0 3.2l0.5 0.8l0 -3.2l0.5 3.8l0 2.7l0.5 3.2l0 -4.7l0.5 4.2l0 2.9l0.5 1.8l0 -4.6l0.5 3l0 5.7l0.5 1.4l0 -4.9l0.5 2.1l0 3.9l0.5 3l0 -3.6l0.5 1.5l0 6l0.5 1.8l0 -5l0.5 1.7l0 5.2l0.5 1.8l0 -2.5l0.5 2.5l0 4.7l0.5 1.2l0 -4.7l0.5 3l0 3.3l0.5 4.2l0 -5.1l0.5 2.2l0 4.1l0.5 1.5l0 -2.8l0.5 2.1l0 4l0.5 2.8l0 -3.5l0.5 1.8l0 3.6l0.5 2.8l0 -3.5l0.5 3.9l0 3.5l0.5 2.9l0 -4.4l0.5 3.1l0 4.3l0.5 1.8l0 -3.3l0.5 1.8l0 4.1l0.5 0.5l0 -3.6l0.5 3.3l0 3.7l0.5 2.9l0 -5.4l0.5 4.3l0 5.3l0.5 0.6l0 -4.9l0.5 4.1l0 3.1l0.5 4.6l0 -5l0.5 2.5l0 3.7l0.5 2.9l0 -3.4l0.5 1.9l0 2.4l0.5 2.8l0 -2.2l0.5 0.3l0 6.6l0.5 2.9l0 -6.6l0.5 4.1l0 3.4l0.5 2.5l0 -5.1l0.5 2.9l0 3.6l0.5 3.2l0 -3.8l0.5 2.3l0 3.4l0.5 2.6l0 -4.2l0.5 3.4l0 5.6l0.5 2.2l0 -4.7l0.5 1.9l0 5.5l0.5 1.7l0 -6.1l0.5 3.9l0 3.4l0.5 3.7l0 -4.5l0.5 2.2l0 6.5l0.5 -0.8l0 -2.7l0.5 0.9l0 5.8l0.5 1.2l0 -2.4l0.5 2.5l0 1.8l0.5 3.6l0 -3.1l0.5 2l0 4.2l0.5 3.2l0 -4.9l0.5 0.4l0 4.9l0.5 4.3l0 -5.1l0.5 3.5l0 3.7l0.5 1.7l0 -2.5l0.5 1.9l0 4.1l0.5 3.1l0 -4.6l0.5 3.6l0 2.1l0.5 5.5l0 -6.4l0.5 3.4l0 2.8l0.5 3.3l0 -3.6l0.5 1.4l0 3.7l0.5 4.5l0 -6.4l0.5 5l0 2.6l0.5 4.3l0 -5.6l0.5 2.5l0 5.5l0.5 4l0 -5l0.5 3.1l0 2.4l0.5 3.5l0 -2.5l0.5 1.6l0 4.4l0.5 1.5l0 -4.1l0.5 4.4l0 3.9l0.5 4.6l0 -5.8l0.5 2.4l0 5.3l0.5 1.5l0 -3.7l0.5 1.9l0 5.3l0.5 2.8l0 -5l0.5 5.7l0 2.2l0.5 3.4l0 -4.8l0.5 2.8l0 5.4l0.5 3.3l0 -6.4l0.5 4.1l0 4.2l0.5 2.4l0 -5.1l0.5 4l0 4.1l0.5 2.1l0 -3.8l0.5 4.1l0 4.2l0.5 1.9l0 -3.5l0.5 1.7l0 4.1l0.5 1.6l0 -1.9l0.5 1.1l0 5.1l0.5 1.7l0 -2.7l0.5 2.9l0 3.5l0.5 2.8l0 -5l0.5 2.3l0 4.7l0.5 2.7l0 -6.2l0.5 4.6l0 4.6l0.5 3l0 -4.9l0.5 2.6l0 3.8l0.5 1.5l0 -4.2l0.5 2.4l0 4.2l0.5 5.4l0 -6.3l0.5 3.1l0 4.5l0.5 0.8l0 -5.3l0.5 4.5l0 4.3l0.5 1.6l0 -4.2l0.5 2.8l0 2.8l0.5 3.1l0 -3.8l0.5 1.3l0 4.3l0.5 1.4l0 -4.1l0.5 3.4l0 4.2l0.5 1.6l0 -3.5l0.5 1.9l0 2.6l0.5 4l0 -3.8l0.5 1.5l0 3.1l0.5 3.5l0 -5.1l0.5 3.8l0 3.8l0.5 2.1l0 -3.6l0.5 2.3l0 3.6l0.5 2.4l0 -4.6l0.5 3.3l0 3.2l0.5 2.9l0 -4.7l0.5 3.1l0 4.9l0.5 2.8l0 -6.3l0.5 0.6l0 7l0.5 3.2l0 -4.7l0.5 2.8l0 4.2l0.5 1.6l0 -2.4l0.5 3.4l0 4.7l0.5 -0.5l0 -2.9l0.5 3l0 4.3l0.5 1.9l0 -3.7l0.5 0.3l0 4.8l0.5 3.8l0 -7.6l0.5 3.7l0 7.2l0.5 1.8l0 -5.8l0.5 2.5l0 3.4l0.5 3.1l0 -4.7l0.5 -0.1l0 6.2l0.5 3.8l0 -7l0.5 0.4l0 5.7l0.5 1.1l0 -4.5l0.5 -0.6l0 4.4l0.5 4l0 -6.7l0.5 3.6l0 4.4l0.5 0.5l0 -4.9l0.5 2.2l0 4.5l0.5 -0.2l0 -4.8l0.5 4l0 2.8l0.5 4.9l0 -7.4l0.5 1.4l0 2.3l0.5 3.8l0 -7l0.5 0.8l0 6.3l0.5 1.1l0 -4.1l0.5 -1.1l0 7.3l0.5 0.4l0 -7.2l0.5 1.6l0 4.2l0.5 0.9l0 -3.4l0.5 2.4l0 3l0.5 2.9l0 -4.5l0.5 -0.5l0 4.5l0.5 0.7l0 -4.3l0.5 1.6l0 3.2l0.5 1.6l0 -3.9l0.5 -1.5l0 8.8l0.5 -1.3l0 -5.7l0.5 1.4l0 6.7l0.5 -2l0 -5.9l0.5 -1.6l0 7.2l0.5 2l0 -5.8l0.5 0l0 8.3l0.5 -2.2l0 -5l0.5 -1.8l0 8.8l0.5 1.9l0 -11.6l0.5 0l0 10.4l0.5 1.7l0 -6.1l0.5 -1.9l0 3.7l0.5 3.3l0 -6.5l0.5 0.2l0 7.3l0.5 0.2l0 -7l0.5 -1l0 7.4l0.5 4.6l0 -13.6l0.5 3.3l0 7.9l0.5 -2.2l0 -5.6l0.5 1.2l0 3.8l0.5 3l0 -6.9l0.5 -0.3l0 3.6l0.5 2l0 -11.2l0.5 4.5l0 4.1l0.5 3.7l0 -9.7l0.5 3l0 8l0.5 0.2l0 -7.6l0.5 -2.9l0 7.8l0.5 1.5l0 -8.8l0.5 0.3l0 6.9l0.5 -0.4l0 -7.4l0.5 0.4l0 5.9l0.5 -0.3l0 -9.5l0.5 -1.9l0 10.1l0.5 0.9l0 -8.1l0.5 1.2l0 7.7l0.5 -0.4l0 -9.4l0.5 2l0 5.9l0.5 1.1l0 -8.7l0.5 0.2l0 7.2l0.5 2.4l0 -9.2l0.5 -1l0 4.8l0.5 0.3l0 -6.6l0.5 2.5l0 4l0.5 -0.2l0 -6.4l0.5 2l0 5.8l0.5 0.2l0 -7.5l0.5 -2.6l0 7.3l0.5 -0.9l0 -5.6l0.5 -2.4l0 9.9l0.5 -2.9l0 -3.6l0.5 -5.4l0 9.5l0.5 0.6l0 -6.8l0.5 1.3l0 5.5l0.5 -1.3l0 -5.6l0.5 -1.1l0 2l0.5 2.7l0 -6.1l0.5 -1.6l0 6.2l0.5 -0.7l0 -6.7l0.5 -0.3l0 6.6l0.5 -1.9l0 -3.5l0.5 -2l0 5.6l0.5 -2.1l0 -5.7l0.5 0.6l0 5.9l0.5 -3.3l0 -7.6l0.5 3.7l0 3.3l0.5 -0.1l0 -7.3l0.5 -0.3l0 5.8l0.5 -0.5l0 -7l0.5 -0.7l0 4.4l0.5 -1.1l0 -5.5l0.5 -1l0 5.8l0.5 -0.9l0 -5.5l0.5 -1.2l0 4.2l0.5 -1.6l0 -7.4l0.5 1.7l0 4l0.5 -2.4l0 -5.3l0.5 1l0 4.6l0.5 -1.4l0 -5.1l0.5 -0.5l0 1.9l0.5 -0.6l0 -4.6l0.5 -0.4l0 2.1l0.5 -1l0 -2.8l0.5 -2.1l0 2.9l0.5 -1.7l0 -6l0.5 -0.1l0 5.6l0.5 -4.7l0 -2.9l0.5 -2.9l0 4.5l0.5 -2.9l0 -5.2l0.5 -3.1l0 6.3l0.5 -2.7l0 -4.2l0.5 -1.7l0 4.9l0.5 -3.5l0 -2.8l0.5 -3.5l0 4l0.5 -2.4l0 -4.3l0.5 -2.4l0 4.6l0.5 -1.6l0 -4.9l0.5 -3.5l0 5l0.5 -3l0 -2.4l0.5 -3.7l0 5.5l0.5 -5.7l0 -4.1l0.5 -0.4l0 4.7l0.5 -3.4l0 -5.1l0.5 -1.8l0 6.1l0.5 -5.3l0 -3l0.5 -2.8l0 3.7l0.5 -4.3l0 -2.8l0.5 -4.8l0 6l0.5 -4.4l0 -3.9l0.5 -2.1l0 3.2l0.5 0.1l0 -5.9l0.5 -3.4l0 2.7l0.5 -1.7l0 -3.1l0.5 -2.7l0 2.9l0.5 -3l0 -2.5l0.5 -3.7l0 2.3l0.5 -2.4l0 -3.3l0.5 -1.6l0 4.2l0.5 -3.7l0 -4.7l0.5 -2.8l0 3.2l0.5 -1.6l0 -2.6l0.5 -2.9l0 3.8l0.5 -3.2l0 -3l0.5 -3.2l0 6.2l0.5 -4.3l0 -4.7l0.5 -1.7l0 3.9l0.5 -2.6l0 -3.5l0.5 -3l0 3.8l0.5 -1.7l0 -4.1l0.5 -2.9l0 5.1l0.5 -2.8l0 -3.6l0.5 -2.1l0 2.9l0.5 -3.3l0 -4.1l0.5 -2.4l0 4.2l0.5 -2.4l0 -3.7l0.5 -2.3l0 3.3l0.5 -4l0 -2.5l0.5 -3.5l0 2.9l0.5 -1.8l0 -6.8l0.5 -2.1l0 3.9l0.5 -3.6l0 -4.3l0.5 -3.3l0 4.4l0.5 -2.7l0 -7.6l0.5 -3.1l0 7.2l0.5 -5.9l0 -4.3l0.5 -5.1l0 6.4l0.5 -4.6l0 -3.8" fill="none" stroke="#000" stroke-width="3.8" stroke-linejoin="round"/>
<path d="M129.6 319V321.4M132.6 291.5V289M134.6 278.3V276.3M143.1 229.4V232.7M145.1 212.1V209.7M148.1 194V196M154.1 146.8V144.7M161.1 119.1V115.2M170.1 100.8V98.6M171.1 99.9V95.1M171.6 100.9V99.3M174.6 101.7V105M175.1 102.2V103.7M175.6 96.1V94.5M177.1 100.3V105.4M178.1 97V94.5M179.6 90.8V88.9M182.6 91V85.7M183.1 96.3V99.6M186.1 96.8V99.5M187.1 89.7V86.3M188.1 86.1V83M190.1 87.8V82.7M194.1 97.6V101.5M197.6 101.5V104.7M198.1 93.8V90.6M199.1 95.4V92.5M201.6 102.9V106.1M203.1 99.9V96.7M215.1 126.7V124.5M216.1 129.5V126.2M220.6 151.9V155.3M223.6 161.1V158.8M230.1 192.6V190.7M230.6 195.6V192.5M234.1 212.9V210.1M235.1 219.1V217.5M253.1 311V312.8M258.1 334.2V331.3M272.6 419.8V422.1M279.1 448.3V445.9M280.6 457.4V459.5M281.6 463.1V465.6M282.1 464.9V466.8M284.6 475V477.4M288.6 491.6V488.1M291.1 507.8V510.1M293.1 515.1V513.1M300.1 536.3V534.5M308.6 560.9V565.3M309.1 559.8V562.3M309.6 555.8V551.1M310.6 563.5V565.3M311.1 564.3V568M311.6 563.9V566.5M315.6 567.3V570.9M316.6 562.2V558.2M317.6 567.3V569.6M319.6 559.6V557M320.6 563V559.7M321.1 559.3V557.4M324.6 562.6V558.9M325.6 560.3V557M327.1 556.7V553.1M328.1 556.1V552.6M328.6 563.9V565.7M330.6 563.8V565.8M331.6 562.8V566.6M332.6 562V567.1M333.6 557.4V553.8M335.6 554.9V550.4M337.6 550V546.5M339.6 548.6V545.9M340.6 549.6V551.5M342.6 543.6V540.3M343.1 548.4V550.8M343.6 538.9V537M344.6 543.2V545.7M350.1 521.4V519.4M356.1 494.9V492.6M357.6 493.2V495.1M360.1 480.8V484.4M361.6 471.8V473.7M363.1 464.7V467M365.1 448.7V445.9M367.1 435.9V433.9M368.6 428.1V425.7M369.6 423.5V421.7M372.6 406.8V405.2M378.1 381.3V378.1M381.6 368V370.2M382.1 362.5V360.6M386.6 337V334.7M391.6 301.7V299.7M394.6 282.8V284.4M398.1 262.5V264.1M398.6 258.8V261.9M400.6 242.8V239.6M405.1 212.8V210.5M407.1 202.3V205.2M409.6 179.5V176.4M415.6 139.5V137.5M418.1 126.6V122.6M419.6 127.7V129.5M420.1 118.9V114.7M424.6 107.7V103.3M425.1 108V106.4M425.6 111V114.6M427.1 108.3V111.8M428.6 108.8V113M430.6 100.8V96.6M431.6 100.1V95.9M432.6 100.2V97.3M436.1 95.6V93.2M438.6 92.6V90.5M439.1 94.6V89.5M444.1 94.4V96.4M445.1 88.6V85.2M448.1 94.7V96.4M451.6 94.8V98.1M452.6 89.6V87M459.6 94.9V93.1M461.1 103.1V107M461.6 95.6V91.3M464.1 100.6V96.8M467.1 116.1V120.8M468.1 114.4V118.8M477.6 137V133.1M480.6 151.7V153.3M483.6 168.1V171.8M489.1 191.8V193.6M491.1 202.9V205.7M491.6 200.8V198M494.6 215.6V213.4M498.6 237.4V234.9M506.1 278.6V280.2M511.1 301.8V304.1M511.6 305.4V307.6M512.6 309.2V311.7M515.6 326.3V328.7M516.1 327.3V328.9M517.1 330.1V327.6M521.6 357.4V359.8M525.1 374.4V372.3M538.1 447.5V449.2M542.1 467.7V469.9M553.6 517.3V515.4M556.1 531.5V535.1M558.1 537.6V541.7M558.6 537.7V540.6M559.1 540.5V544.8M560.6 540V535.6M565.6 546.8V544.6M566.1 553.7V549M566.6 552V547.6M573.1 561.4V556.9M575.6 567.1V570M576.6 568.7V571.3M578.6 570.8V575.5M580.1 568V572.5M581.1 560.1V555.2M584.1 565.2V567.2M585.1 559.2V555.5M587.1 559.2V556.4M590.6 564.9V569.9M591.1 563.2V565.7M594.1 556.4V551.5M594.6 563.6V567.1M596.1 556.9V559M604.1 541.8V545M605.1 534.9V530.9M609.1 526.4V530.4M612.1 515.8V517.7M616.1 497.5V499.4M625.1 449.6V452.6M627.6 434.6V436.2M629.1 423V420.1M632.6 409.4V412.1M643.6 352V349.6M648.1 323.5V320.4M658.1 252.8V250.3M661.1 239.9V242.2M661.6 238.7V241.6M665.1 213.5V217M669.1 179.3V176.5M675.6 142V144.6M676.6 135.7V139.6M681.1 122.9V127.3M686.6 103.4V99.4M688.1 109.5V113.5M689.1 100.8V99.2M692.1 105.2V109M693.6 96.6V93.5M695.1 94.4V91.3M697.1 92.7V88.6M700.6 93.8V89.8M702.1 97.3V99.1M703.1 97.1V102.2M703.6 95.5V97.5M704.1 90.7V85.8M707.1 87.4V82M709.1 96.7V98.6M710.1 96.6V99.7M710.6 89.4V86.9M713.6 97.3V102.6M714.1 90.3V87.9M718.1 101.3V103.4M718.6 93.9V89.4M719.1 102.6V106.4M719.6 97.9V94.4M722.1 98.7V94.9M722.6 104.4V106.4M724.1 105.9V101.9M724.6 113V117.2M725.6 111.4V115.1M726.1 111.5V114.9M728.1 111.1V107.8M729.6 122.3V125.7M731.1 118.6V116.8M733.1 123.3V121.7M742.6 160.2V156.8M744.1 173.2V175.5M744.6 174.7V177.2M747.1 181.2V178.1M760.6 253.9V255.8M762.1 258.9V255.5M764.1 271.4V273.1M764.6 269.7V266.8M768.6 293.7V295.2M777.6 335.1V331.6M780.1 351.4V349.7M783.1 367.7V365.4M785.1 381.6V379.1M786.1 385.1V382.3M795.1 438.3V441.5M808.6 496.8V494.7M813.6 521.4V517.4M814.1 527.3V531.2M819.6 537.7V535.1M820.1 541.7V538.7M823.1 552.9V557M824.1 551.8V554.5M825.6 553.1V549.9M829.6 556.6V554.6M831.6 559.4V554.7M833.6 562.8V559.6M834.1 560.9V556.4M838.1 564.1V561.4M839.1 567.3V572.1M840.1 566.6V568.9M840.6 560.7V557M844.6 557.8V555.6M849.1 562.5V567.1M850.6 556.1V551.4M852.1 554V549.7M852.6 554.9V552.2M853.6 555.8V554.2M855.1 560.6V563.4M856.6 557.3V561.8M857.6 548.4V546.1M858.1 554.6V558.1M860.6 548.2V551M861.1 547.7V551.3M871.6 512.9V516.6M874.6 496.6V493.4M875.1 497.1V499.6M877.6 482.3V479.6M879.6 470.1V467.3M880.6 469.1V471.7M882.6 456.7V458.5M886.1 435.9V438.9M893.1 397.5V394.9" fill="none" stroke="#000" stroke-width="1.1"/>
<path d="M158.6 377.9V438.7M158.6 377.9V354.6M159.6 376.8V383.3M161.1 375V389.7M162.1 373.7V425.4M162.1 373.7V326.8M162.6 373.1V392.6M162.6 373.1V322.9M163.1 372.4V394.7M163.6 371.7V403.6M164.1 371V407.2M164.6 370.3V395.6M165.1 369.7V323.2M165.6 369V390.4M165.6 369V330.8M166.1 368.3V383.8M166.1 368.3V313.9M167.1 367V444.5M167.1 367V334.5M167.6 366.4V395M167.6 366.4V336.9M168.1 365.8V339.7M168.6 365.2V375.7M169.1 364.6V400.7M169.6 364V390.1M169.6 364V322.8M170.1 363.4V381.2M171.1 362.3V382.9M171.1 362.3V331.1M171.6 361.8V380.8M172.1 361.3V467.8M172.6 360.7V441.2M173.1 360.2V381.2M173.1 360.2V326.7M174.1 359.1V325.9M174.6 358.6V390M175.1 358V385.4M175.1 358V317.7M175.6 357.4V406.7M176.1 356.9V373.6M176.6 356.3V397.3M176.6 356.3V329.9M177.1 355.7V390.1M177.6 355.2V393.1M177.6 355.2V325.6M178.1 354.6V398.9M178.1 354.6V312.5M178.6 354V429.9M178.6 354V319.8M179.1 353.4V384M179.6 352.8V419.1M179.6 352.8V317M180.1 352.3V325.3M180.6 351.7V491.6M180.6 351.7V335.2M181.6 350.6V379.2M182.1 350V390.3M182.6 349.5V405.5M183.1 348.9V378M183.6 348.4V432.6M184.1 347.9V376.7M184.1 347.9V335.3M185.6 346.3V338.7M189.6 342V332.4M190.6 340.8V356.4M191.1 340.2V332.8M193.1 337.9V348.1M194.1 336.7V325.1M418.6 377.7V405.4M419.1 377.2V428.9M419.6 376.6V416.7M420.1 376V398.3M420.1 376V350.8M420.6 375.4V397M420.6 375.4V350.2M421.1 374.8V495.1M421.6 374.2V404.9M421.6 374.2V354.2M422.1 373.5V423.1M422.1 373.5V353.7M422.6 372.9V399.2M423.1 372.2V413.1M423.1 372.2V347.5M423.6 371.5V390.8M424.6 370.1V457.6M425.1 369.4V442M425.1 369.4V338.8M425.6 368.8V408.1M425.6 368.8V350.7M426.6 367.4V402.1M426.6 367.4V337M427.1 366.8V399.2M427.6 366.2V428.1M427.6 366.2V336.9M428.1 365.6V460.7M428.6 365V425M429.1 364.4V341.1M429.6 363.8V404.6M429.6 363.8V335.4M430.1 363.3V333.5M430.6 362.7V415.8M431.1 362.2V409.4M431.1 362.2V345.9M431.6 361.6V405.5M432.1 361.1V424M432.6 360.5V407.9M433.1 360V403M434.1 358.9V391.8M434.6 358.4V407.1M434.6 358.4V329.1M435.1 357.8V405.1M435.6 357.3V457.9M436.1 356.7V444.3M436.1 356.7V327.4M436.6 356.1V393.8M437.1 355.5V414.6M437.1 355.5V325.4M437.6 355V424.6M437.6 355V325.4M438.1 354.4V411.1M438.6 353.8V430.6M438.6 353.8V334.7M440.1 352.1V489M440.1 352.1V328.2M440.6 351.5V412.4M440.6 351.5V337.6M441.1 350.9V319.4M441.6 350.4V446.9M441.6 350.4V323.5M442.1 349.8V405.8M442.1 349.8V331.1M443.6 348.2V364.7M445.6 346.1V371.8M446.6 345V370.4M448.6 342.9V370.8M449.6 341.7V327.2M450.1 341.2V327.3M450.6 340.6V363.6M451.1 340V330.4M455.1 335.4V329.1M457.1 333.2V353.5M459.1 331.2V343M459.6 330.7V354.3M461.1 329.1V322.1M465.1 324V309.3M679.6 376.4V389.1M680.1 375.8V385.3M680.6 375.2V418.5M680.6 375.2V357.4M681.1 374.6V426.5M681.1 374.6V343M682.1 373.3V562.1M682.6 372.6V430M683.6 371.3V343.9M684.1 370.6V394.2M684.6 369.9V421.9M684.6 369.9V340M685.1 369.2V381.2M685.1 369.2V332.3M685.6 368.6V411.8M686.1 367.9V471.5M687.1 366.6V404.7M687.1 366.6V351.4M687.6 366V374.6M688.1 365.4V389.4M688.6 364.8V405.9M688.6 364.8V325M689.1 364.2V416.8M690.1 363.1V383.7M691.1 362V394.9M691.6 361.5V396.4M691.6 361.5V328.5M692.1 360.9V428.9M693.1 359.8V385.1M694.1 358.8V401.8M694.6 358.2V387.4M695.1 357.7V382.2M695.1 357.7V318.4M695.6 357.1V387.9M695.6 357.1V319.9M696.1 356.5V381.2M696.6 356V332.7M697.1 355.4V384.8M703.1 348.6V339.8M705.6 346V374.5M707.1 344.4V357.1M708.1 343.3V365.2M710.1 341.1V349.8M710.6 340.5V370M714.1 336.5V322.7M719.6 330.7V355.4M722.6 327.4V314.9M723.6 326.2V338.5M164.5 370.5V331M169.7 363.9V302M178.7 353.9V305M190 341.5V306M193 338V315M205.5 323.9V306M172.5 360.8V318M183.5 348.5V313M159 377.5V448M160.5 375.7V440M162.5 373.2V483.5M163.6 371.7V635M166.5 367.8V470M168.8 364.9V577M170.5 363V460M173.9 359.3V524M177.6 355.2V480M181 351.2V429M186.8 345V443.5M189.3 342.3V455M192.8 338.2V387.6M199.5 331V346M205.5 323.9V375.6M423 372.3V326.8M432.4 360.8V318.7M435.9 356.9V292M441.2 350.8V302.5M445 346.7V320M451 340.1V325.6M454.4 336.2V322M459 331.3V301.3M428 365.7V322M420.3 375.8V476.5M422.9 372.4V526.7M425.4 369V535.7M428.5 365.1V470M431.9 361.3V483M435.7 357.1V564M437 355.7V470M440.4 351.7V543.4M444.7 347V429M448.5 343V420M453.7 337V393M458.4 331.9V448M462 328.1V360M681.3 374.4V350.8M684.4 370.2V341.6M690.5 362.7V323M696.8 355.7V314M703.2 348.5V295M708.8 342.5V319M715.9 334.5V325.4M722.5 327.5V265.9M725.8 323.2V311M679.7 376.3V501.7M682.1 373.3V635M686.3 367.6V538M690.1 363.1V526M692.5 360.5V470.5M696 356.6V453M699.5 352.6V440M702.9 348.8V456.6M708.1 343.3V434M715.2 335.2V360.7M722.7 327.3V493M281.7 275V257.3M290.5 281.2V260.4M294 284.3V297.4M276 276.5V262M286 277.4V262M541 272.5V253M549 277.7V255M545 274.3V262M553 281.2V290M804.5 279.5V243.9M798 278.5V262M809 283.1V262M812 285.6V296" fill="none" stroke="#f22" stroke-width="1.4"/>
<path d="M125.1 384.8l0 3.1l0.5 2.4l0 -7.4l0.5 1.1l0 6.1l0.5 -1.5l0 -2.2l0.5 -0.1l0 3.1l0.5 0l0 -4.3l0.5 0.3l0 5.4l0.5 0l0 -4.7l0.5 0.6l0 5.9l0.5 0.1l0 -7.6l0.5 3.1l0 2.7l0.5 0.3l0 -3.9l0.5 1.4l0 2.9l0.5 1.3l0 -4.7l0.5 -0.3l0 2.4l0.5 2.4l0 -5.6l0.5 0.8l0 4.1l0.5 0.1l0 -4.3l0.5 0l0 5.2l0.5 0.1l0 -4.2l0.5 0.4l0 3l0.5 1.9l0 -7.4l0.5 2.8l0 4.7l0.5 -0.6l0 -5.5l0.5 2.6l0 2.7l0.5 -1.1l0 -3.1l0.5 0.9l0 3.5l0.5 -1.2l0 -2.2l0.5 -0.2l0 4.1l0.5 -0.2l0 -4.5l0.5 0.3l0 4.8l0.5 -0.1l0 -4.4l0.5 -1.2l0 4l0.5 -1.3l0 -2.3l0.5 0.3l0 4.3l0.5 -1.1l0 -4.7l0.5 1.8l0 3.6l0.5 -0.3l0 -4.8l0.5 -0.7l0 5.1l0.5 -1.5l0 -2.2l0.5 -1.8l0 4.1l0.5 0.4l0 -3.9l0.5 -2l0 6l0.5 -0.6l0 -2.9l0.5 0.3l0 2.8l0.5 -2.3l0 -2.5l0.5 0.2l0 3.8l0.5 -0.5l0 -6.7l0.5 1.9l0 5.5l0.5 -2.5l0 -4.9l0.5 2.2l0 4l0.5 -2.1l0 -5.9l0.5 -0.5l0 5.6l0.5 0l0 -4.1l0.5 0.5l0 3.2l0.5 1.4l0 -4.4l0.5 -0.9l0 3.8l0.5 -0.5l0 -4l0.5 0.1l0 2.9l0.5 -0.6l0 -5.3l0.5 1.3l0 3.3l0.5 -0.5l0 -2.6l0.5 -1.2l0 3.7l0.5 -1.6l0 -2.1l0.5 -2.6l0 5.8l0.5 -2l0 -3.7l0.5 -1.2l0 5.3l0.5 0.4l0 -22.1l0.5 1.9l0 19.4l0.5 -0.1l0 -20.4l0.5 -4.8l0 25.1l0.5 -0.5l0 -29.9l0.5 -3.3l0 37.6l0.5 -7.2l0 -24.5l0.5 -4.5l0 29.3l0.5 1.9l0 -33.9l0.5 -3.9l0 42.2l0.5 0.2l0 -37.2l0.5 -5.6l0 43.2l0.5 0.2l0 -42.6l0.5 2.6l0 34.5l0.5 1.8l0 -37.8l0.5 -5.1l0 43.7l0.5 -4.1l0 -36.4l0.5 3.1l0 26.8l0.5 5.6l0 -32.9l0.5 0.6l0 25.5l0.5 5.7l0 -31.6l0.5 0.4l0 30.6l0.5 -4l0 -27.1l0.5 -6.6l0 39.5l0.5 8.4l0 -41.4l0.5 -4l0 35.8l0.5 1.6l0 -40.1l0.5 -1.1l0 40.9l0.5 1.9l0 -34.7l0.5 -0.9l0 27.2l0.5 8.8l0 -36.1l0.5 -2.1l0 41.2l0.5 -11.5l0 -32.6l0.5 -0.5l0 35.6l0.5 6.7l0 -41.7l0.5 4.1l0 31.2l0.5 3.2l0 -36.5l0.5 -4.4l0 34l0.5 1.8l0 -29.6l0.5 -7.6l0 46.7l0.5 2.2l0 -49.8l0.5 1.1l0 36.1l0.5 0.8l0 -33.3l0.5 0.4l0 41.3l0.5 4.6l0 -45l0.5 0.6l0 41.6l0.5 -3.7l0 -40.5l0.5 -0.6l0 34l0.5 4.2l0 -37.4l0.5 -3l0 43.6l0.5 6.1l0 -48.8l0.5 10l0 5.8l0.5 -2.3l0 -4.1l0.5 -0.2l0 4.3l0.5 -0.2l0 -6.9l0.5 1.3l0 4.9l0.5 -0.7l0 -3.8l0.5 -0.9l0 5l0.5 -1.8l0 -2l0.5 -2.5l0 6.3l0.5 -2.6l0 -3.1l0.5 -0.9l0 4.6l0.5 -2l0 -3.5l0.5 -1.1l0 7.5l0.5 -3.9l0 -5.4l0.5 1.9l0 5.4l0.5 -3.1l0 -2.9l0.5 -1.6l0 4.7l0.5 -1.2l0 -3l0.5 -1.3l0 3.4l0.5 1.3l0 -4.8l0.5 -1.2l0 5.2l0.5 -1.7l0 -3l0.5 -2l0 7.4l0.5 -3.8l0 -3.8l0.5 -0.6l0 4.2l0.5 -0.3l0 -4.9l0.5 -1l0 5.6l0.5 -2l0 -3.3l0.5 -0.5l0 4.3l0.5 -1.1l0 -4l0.5 -1l0 4.9l0.5 0.2l0 -5.5l0.5 -0.2l0 4.1l0.5 1.2l0 -7.7l0.5 0.5l0 5.8l0.5 -1.1l0 -3.4l0.5 -0.6l0 3.2l0.5 -0.3l0 -4l0.5 -0.2l0 3.5l0.5 -0.5l0 -4.2l0.5 0.2l0 4.6l0.5 -1.4l0 -4l0.5 -2.4l0 3.8l0.5 0l0 -4.4l0.5 0l0 4.5l0.5 0l0 -4.9l0.5 -1.3l0 4.1l0.5 0.2l0 -3.8l0.5 -2l0 4.2l0.5 1l0 -4.7l0.5 0.1l0 2.2l0.5 0l0 -3.6l0.5 -1.2l0 5.7l0.5 -0.6l0 -5l0.5 -0.4l0 3.7l0.5 -2l0 -2.5l0.5 -1l0 4.7l0.5 -0.2l0 -5l0.5 -2.3l0 4.6l0.5 0l0 -4.4l0.5 0.5l0 4.2l0.5 -1.2l0 -3.5l0.5 -0.7l0 4.1l0.5 -0.5l0 -5l0.5 0.7l0 3.4l0.5 1.7l0 -5l0.5 0.4l0 3.4l0.5 -2.1l0 -3.8l0.5 -0.5l0 4.4l0.5 0.5l0 -3.2l0.5 -0.3l0 2.9l0.5 0.1l0 -3.8l0.5 -2.7l0 7.7l0.5 -3.1l0 -3.9l0.5 -0.8l0 6.6l0.5 -0.8l0 -5.3l0.5 0.5l0 3.2l0.5 1.2l0 -6l0.5 2l0 3.1l0.5 -1.9l0 -2.6l0.5 -1.8l0 5.7l0.5 -2l0 -3.3l0.5 0l0 3.4l0.5 -1.2l0 -3.6l0.5 0.9l0 3l0.5 -0.9l0 -3.4l0.5 0.8l0 4.2l0.5 -1.8l0 -2.6l0.5 -1.4l0 4l0.5 0.9l0 -4.4l0.5 -2.5l0 5.4l0.5 -1.7l0 -2.9l0.5 -1.1l0 3.5l0.5 1.1l0 -3.4l0.5 -2.5l0 5.5l0.5 -0.7l0 -3.5l0.5 -1.5l0 4.5l0.5 -0.9l0 -3.2l0.5 -0.9l0 5.9l0.5 -2.6l0 -2.5l0.5 -1.6l0 4.6l0.5 -0.6l0 -4.1l0.5 0.6l0 3.4l0.5 -1.1l0 -3.7l0.5 1.6l0 3.6l0.5 -0.7l0 -3.8l0.5 -1.8l0 4.2l0.5 0.1l0 -3l0.5 -1.1l0 4.2l0.5 -0.1l0 -4.7l0.5 -0.4l0 7.3l0.5 -3.8l0 -3.7l0.5 1.1l0 2.5l0.5 -0.5l0 -3.6l0.5 -0.7l0 5.2l0.5 0.1l0 -5.1l0.5 -0.7l0 4.6l0.5 0.1l0 -6l0.5 0.4l0 4.6l0.5 0l0 -4.1l0.5 0l0 2.8l0.5 -0.5l0 -3l0.5 -0.4l0 5l0.5 0.3l0 -4.5l0.5 -1.6l0 4.3l0.5 -0.4l0 -3.8l0.5 -0.3l0 4.4l0.5 -0.8l0 -3l0.5 -1.9l0 5.2l0.5 -1.1l0 -2.1l0.5 -0.6l0 3.4l0.5 -0.5l0 -4.1l0.5 -0.3l0 5.1l0.5 -0.6l0 -4.1l0.5 -0.5l0 4.2l0.5 -0.7l0 -3.3l0.5 -0.9l0 2.8l0.5 -0.5l0 -2.6l0.5 -1.9l0 5.7l0.5 0.4l0 -4.2l0.5 -0.9l0 3.7l0.5 0.1l0 -4.7l0.5 0.1l0 5.2l0.5 -1.6l0 -3.5l0.5 -1.3l0 3.2l0.5 1.4l0 -4.7l0.5 1.7l0 2.8l0.5 -0.7l0 -5.7l0.5 1.9l0 4.1l0.5 -1.5l0 -1.9l0.5 -2.6l0 5.4l0.5 -2.3l0 -1.5l0.5 -2.4l0 5l0.5 -0.5l0 -4.6l0.5 1.5l0 3.5l0.5 1l0 -4.8l0.5 -1.8l0 4.3l0.5 1.1l0 -4.3l0.5 -1.1l0 4.6l0.5 0.2l0 -3.4l0.5 -1l0 6.7l0.5 -3l0 -4.3l0.5 -0.1l0 4.2l0.5 0.9l0 -5.3l0.5 0l0 4l0.5 -1.1l0 -5.7l0.5 2.7l0 3.1l0.5 1.6l0 -5.2l0.5 -0.5l0 5.9l0.5 -1.2l0 -8.2l0.5 2.3l0 6.1l0.5 -2.4l0 -3.7l0.5 2.1l0 2l0.5 2l0 -5.5l0.5 -0.9l0 5.8l0.5 0.8l0 -7.9l0.5 2.5l0 2.2l0.5 1.8l0 -5.9l0.5 0.6l0 4.5l0.5 0.8l0 -7.6l0.5 2.2l0 3.3l0.5 1.2l0 -3.2l0.5 -2.7l0 6.2l0.5 -2.2l0 -6.9l0.5 3.2l0 2.4l0.5 0.5l0 -3.6l0.5 -0.8l0 4.1l0.5 0.6l0 -4.5l0.5 0.8l0 3.2l0.5 0.9l0 -6.4l0.5 -1l0 6.9l0.5 -0.1l0 -5.2l0.5 0.6l0 5.7l0.5 -1.8l0 -7.1l0.5 0.2l0 6.6l0.5 1.2l0 -5.7l0.5 0l0 4.8l0.5 -1.5l0 -3.2l0.5 0.2l0 5.2l0.5 1.4l0 -8.1l0.5 2.3l0 4.7l0.5 1.1l0 -5.6l0.5 0.2l0 5.1l0.5 1.3l0 -7l0.5 0.2l0 5.3l0.5 1.4l0 -5.5l0.5 0.1l0 6.1l0.5 -0.6l0 -3.3l0.5 -2l0 7.2l0.5 -0.5l0 -3.8l0.5 0l0 5.4l0.5 -0.9l0 -6.6l0.5 1.8l0 4.8l0.5 1.1l0 -2.8l0.5 -2l0 5.5l0.5 0.8l0 -4.5l0.5 -2.6l0 7l0.5 0.4l0 -4.1l0.5 -1l0 5.7l0.5 0.3l0 -6.7l0.5 2.1l0 5.9l0.5 0.8l0 -7.1l0.5 1.9l0 3.2l0.5 3.2l0 -7.8l0.5 1.5l0 5.4l0.5 0.4l0 -3.3l0.5 -0.7l0 6.4l0.5 0.8l0 -5.8l0.5 -0.5l0 4.1l0.5 3.5l0 -6.9l0.5 1.1l0 4.6l0.5 -1.8l0 -4.6l0.5 1.4l0 5.9l0.5 -1.4l0 -3.6l0.5 -0.4l0 6.8l0.5 -0.7l0 -4l0.5 1.2l0 3.2l0.5 2.3l0 -6l0.5 -0.2l0 4.7l0.5 1.7l0 -5.2l0.5 -0.5l0 4.2l0.5 4.7l0 -7.1l0.5 0.8l0 3.6l0.5 0.9l0 -3.5l0.5 -1.2l0 6l0.5 -0.4l0 -3.9l0.5 1.2l0 4.1l0.5 0.3l0 -4.1l0.5 2l0 5.6l0.5 -1.2l0 -4.6l0.5 0l0 6.3l0.5 -1.7l0 -4.1l0.5 -1.7l0 8.1l0.5 1.3l0 -5.8l0.5 -1.6l0 5.5l0.5 2.4l0 -5.9l0.5 1.7l0 3l0.5 2.4l0 -5.5l0.5 -1.7l0 6.3l0.5 1.5l0 -4.3l0.5 -0.8l0 4l0.5 1.7l0 -4.6l0.5 1.4l0 3.3l0.5 1.4l0 -5l0.5 -1.4l0 6l0.5 2.4l0 -8.3l0.5 1.5l0 5.7l0.5 1.4l0 -6.6l0.5 2.8l0 4l0.5 0.3l0 -2.9l0.5 1.3l0 3.4l0.5 0.8l0 -5.9l0.5 0.5l0 4.6l0.5 1.5l0 -4.5l0.5 -0.6l0 5.5l0.5 -1.1l0 -3.3l0.5 1.4l0 3.9l0.5 0.8l0 -4.4l0.5 0l0 5.1l0.5 0.8l0 -5.4l0.5 1.4l0 4.2l0.5 0.3l0 -3.2l0.5 0.1l0 5.6l0.5 -1.9l0 -3.7l0.5 -0.2l0 6.1l0.5 1.2l0 -6.4l0.5 2l0 5.5l0.5 0.3l0 -4.8l0.5 0.8l0 4.1l0.5 0.4l0 -4.4l0.5 2.3l0 4.6l0.5 -0.8l0 -4.3l0.5 0.4l0 4.8l0.5 -1l0 -2.8l0.5 1.5l0 2.4l0.5 0.7l0 -4.1l0.5 0.7l0 4l0.5 0.2l0 -2.5l0.5 1.1l0 3.2l0.5 1.2l0 -5.2l0.5 2.4l0 5.5l0.5 -2.2l0 -3l0.5 -0.2l0 6.6l0.5 0.4l0 -8.6l0.5 2.9l0 4.8l0.5 1.6l0 -4.2l0.5 0.7l0 2.6l0.5 0.1l0 -3.9l0.5 1.1l0 3.6l0.5 1.4l0 -3l0.5 -1.2l0 4.6l0.5 1.9l0 -6.6l0.5 2.8l0 4.4l0.5 0.7l0 -5.5l0.5 1l0 4.9l0.5 0.7l0 -3.9l0.5 0.2l0 3.5l0.5 1.9l0 -4.2l0.5 0.8l0 3.8l0.5 -0.4l0 -2.8l0.5 -0.2l0 3.6l0.5 1.6l0 -4.8l0.5 0.4l0 5.3l0.5 0l0 -3.2l0.5 -1.9l0 6.7l0.5 -0.7l0 -4.5l0.5 1.5l0 4.3l0.5 -0.3l0 -1.9l0.5 -2.9l0 7.4l0.5 0.5l0 -4.4l0.5 -0.5l0 4.5l0.5 1.1l0 -4.7l0.5 0.9l0 2.4l0.5 3.2l0 -5.6l0.5 1.7l0 3.9l0.5 1.1l0 -3.6l0.5 0.1l0 2.2l0.5 2l0 -4.1l0.5 0.3l0 3.5l0.5 -1.3l0 -2.6l0.5 1l0 6.9l0.5 -2.4l0 -2.5l0.5 -1l0 5l0.5 0.4l0 -4.1l0.5 0.8l0 3.6l0.5 0.1l0 -3.9l0.5 1.4l0 3.3l0.5 -0.9l0 -4.4l0.5 2l0 3.6l0.5 1.1l0 -3.4l0.5 -2.7l0 6l0.5 0.2l0 -2.4l0.5 -1.3l0 5.7l0.5 -0.3l0 -2.4l0.5 -0.2l0 3.4l0.5 1.2l0 -3.5l0.5 -2.1l0 5.5l0.5 -0.6l0 -4.8l0.5 1.9l0 6.1l0.5 -1.3l0 -4.9l0.5 1.8l0 3.4l0.5 1.1l0 -3.4l0.5 -1.5l0 4.5l0.5 1.5l0 -3.9l0.5 -1.9l0 6.3l0.5 2l0 -5.4l0.5 -1.2l0 5.9l0.5 -0.8l0 -4.2l0.5 -0.4l0 4.2l0.5 0.7l0 -2.4l0.5 -0.8l0 3.4l0.5 0.6l0 -5.1l0.5 1.8l0 2.7l0.5 1l0 -4.1l0.5 0.3l0 3.8l0.5 3.9l0 -6.3l0.5 -0.6l0 4.5l0.5 -0.1l0 -3.4l0.5 1.4l0 2.3l0.5 1.1l0 -5l0.5 1.2l0 3.7l0.5 0.1l0 -5.4l0.5 2.1l0 3.5l0.5 3l0 -5.2l0.5 -1.9l0 4.4l0.5 0.7l0 -3.2l0.5 -0.3l0 6.1l0.5 -0.6l0 -4.4l0.5 0.9l0 4.9l0.5 0.4l0 -5.2l0.5 0.8l0 4l0.5 1.5l0 -5.1l0.5 -0.4l0 4l0.5 1.7l0 -4.1l0.5 0l0 4.3l0.5 0.1l0 -4.5l0.5 1.4l0 4.4l0.5 -0.9l0 -3l0.5 2.3l0 2.1l0.5 1.6l0 -5.5l0.5 2.9l0 2.5l0.5 1.5l0 -3.5l0.5 -1.3l0 4.6l0.5 0.8l0 -4.8l0.5 0l0 4.7l0.5 1.2l0 -5.6l0.5 1l0 2.8l0.5 1.8l0 -4.4l0.5 0.3l0 3.2l0.5 1.1l0 -2.8l0.5 -1.9l0 5.1l0.5 -1l0 -3.3l0.5 1l0 3.9l0.5 -2l0 -4.2l0.5 2.2l0 5.9l0.5 -1.1l0 -5.2l0.5 1l0 1.7l0.5 0l0 -4.3l0.5 1.9l0 3.2l0.5 -0.9l0 -2.1l0.5 1.1l0 2.4l0.5 0.7l0 -4.1l0.5 0.3l0 2.2l0.5 2.2l0 -4.7l0.5 0.7l0 3.6l0.5 0.2l0 -2.9l0.5 -1.8l0 5.4l0.5 -1.7l0 -2.6l0.5 -1.9l0 4.6l0.5 1.6l0 -3.8l0.5 -1.4l0 6l0.5 0.7l0 -6.2l0.5 0.2l0 3.1l0.5 1.4l0 -3.7l0.5 -1.3l0 3.9l0.5 -0.8l0 -4.6l0.5 1.7l0 2.9l0.5 -1.1l0 -2.4l0.5 0.3l0 4.2l0.5 -0.4l0 -3.8l0.5 -1.3l0 4.7l0.5 -0.5l0 -4.2l0.5 0.9l0 5l0.5 -1.3l0 -5.8l0.5 -1.1l0 5.8l0.5 -0.4l0 -2.5l0.5 -2l0 4.2l0.5 0.6l0 -5.2l0.5 -0.1l0 4.1l0.5 -0.5l0 -4.4l0.5 1.3l0 4.8l0.5 -3.1l0 -2.8l0.5 -0.3l0 3.5l0.5 -0.2l0 -3.1l0.5 -3.6l0 6.2l0.5 -0.4l0 -3.6l0.5 0l0 4l0.5 -2.7l0 -4.4l0.5 2.3l0 3.6l0.5 -1.8l0 -2.9l0.5 -1.1l0 4l0.5 0.3l0 -5.6l0.5 1.2l0 4.6l0.5 -2l0 -4.1l0.5 0.2l0 2.8l0.5 -0.8l0 -3.6l0.5 1.1l0 2.8l0.5 0.5l0 -5l0.5 -0.3l0 4.5l0.5 18.2l0 -34.8l0.5 6.2l0 16.9l0.5 10l0 -26.9l0.5 -7.5l0 33.3l0.5 -6.8l0 -27.4l0.5 1.1l0 23.5l0.5 8.2l0 -33.6l0.5 3.5l0 29.9l0.5 -4.4l0 -25.5l0.5 1.8l0 29.4l0.5 -5.9l0 -28.4l0.5 -1.7l0 28.3l0.5 9.7l0 -35.3l0.5 -3.3l0 40.8l0.5 -9.9l0 -32.9l0.5 -0.5l0 37l0.5 4.1l0 -39.9l0.5 -4.2l0 32.9l0.5 2.1l0 -36.1l0.5 3.8l0 40.5l0.5 -3.7l0 -36l0.5 -0.5l0 38.1l0.5 0.1l0 -44.6l0.5 5.5l0 33l0.5 12.4l0 -48.2l0.5 -1.1l0 38.3l0.5 6.6l0 -49.4l0.5 -0.5l0 52l0.5 -1.2l0 -48.4l0.5 -0.2l0 38l0.5 9.6l0 -46.7l0.5 -4.9l0 42.8l0.5 9.8l0 -52.3l0.5 2.4l0 48.9l0.5 0.7l0 -47.8l0.5 -3.9l0 45.9l0.5 -0.1l0 -44.4l0.5 -1.8l0 52.4l0.5 1.3l0 -51.7l0.5 -4.2l0 46l0.5 6l0 -48.6l0.5 -6.5l0 59.4l0.5 -1l0 -57.8l0.5 3.6l0 55.6l0.5 -7.2l0 -46.9l0.5 -8.8l0 53.3l0.5 -1.5l0 -47.5l0.5 1.4l0 56.3l0.5 -6.1l0 -56.8l0.5 11l0 5.7l0.5 -2.4l0 -4l0.5 0.6l0 3.8l0.5 -1.5l0 -6.5l0.5 -0.7l0 7.6l0.5 -1.5l0 -2.9l0.5 -1.9l0 4.7l0.5 -0.4l0 -4.2l0.5 -2.3l0 3.2l0.5 2.5l0 -5.6l0.5 0.8l0 3l0.5 1.9l0 -5.9l0.5 -3.5l0 6.8l0.5 -0.2l0 -4.3l0.5 -1.9l0 4.9l0.5 0.5l0 -4.3l0.5 -1.9l0 4.9l0.5 -1.5l0 -4l0.5 -0.5l0 5.5l0.5 -3.1l0 -1.5l0.5 -2.1l0 3.6l0.5 0.3l0 -4l0.5 -0.8l0 4.8l0.5 -0.4l0 -4.8l0.5 -0.8l0 3.8l0.5 0.1l0 -3.6l0.5 -0.5l0 3.3l0.5 -0.3l0 -3.3l0.5 -1.5l0 4.8l0.5 -1l0 -3.6l0.5 -1.2l0 4.2l0.5 -0.8l0 -2.4l0.5 -3.3l0 4.4l0.5 0.7l0 -4.3l0.5 -0.9l0 5.1l0.5 -1.3l0 -5l0.5 0.5l0 3.7l0.5 -0.8l0 -2.7l0.5 -0.9l0 3.5l0.5 -0.7l0 -6.2l0.5 3.3l0 2.7l0.5 -1l0 -3.1l0.5 -2.9l0 5.9l0.5 0.7l0 -6l0.5 -2.1l0 5.4l0.5 0.2l0 -5l0.5 -0.4l0 3.8l0.5 0.2l0 -4.3l0.5 -0.7l0 4.6l0.5 0.9l0 -6.4l0.5 0l0 2.6l0.5 1.1l0 -5.7l0.5 -1.6l0 5.3l0.5 -1.2l0 -3l0.5 -1.1l0 5.1l0.5 -2.8l0 -4.3l0.5 0.7l0 4.6l0.5 -0.8l0 -2.7l0.5 -1.4l0 4l0.5 -1.5l0 -3.9l0.5 -1.6l0 5.8l0.5 -0.4l0 -3.3l0.5 -2.1l0 3.5l0.5 0.2l0 -3.2l0.5 -4.1l0 7.6l0.5 -1.1l0 -3.2l0.5 -0.3l0 4l0.5 -0.1l0 -6.8l0.5 0.5l0 5.2l0.5 -1.4l0 -2.8l0.5 -0.8l0 3.3l0.5 -0.1l0 -3.5l0.5 -0.3l0 4l0.5 0l0 -4.2l0.5 -1.1l0 3l0.5 0.2l0 -2.9l0.5 -0.5l0 2.7l0.5 0.7l0 -5.2l0.5 -0.1l0 5.2l0.5 -0.6l0 -5l0.5 -1.1l0 5.3l0.5 0l0 -6.1l0.5 1.3l0 5.5l0.5 -1.8l0 -6.6l0.5 0.7l0 4.5l0.5 0l0 -3.2l0.5 -0.6l0 5.8l0.5 -1.9l0 -4.2l0.5 -2.6l0 6.4l0.5 -0.2l0 -3.2l0.5 -2.5l0 3.9l0.5 -0.5l0 -5.3l0.5 2.6l0 3.4l0.5 -1.6l0 -1.7l0.5 0.1l0 2.1l0.5 0.1l0 -4.9l0.5 0.1l0 6.4l0.5 -2.8l0 -4.2l0.5 -1l0 4.3l0.5 0.3l0 -2.2l0.5 -1.9l0 2.9l0.5 0.5l0 -3.4l0.5 0.6l0 4.3l0.5 -2.9l0 -2.4l0.5 -0.5l0 3.2l0.5 0.7l0 -5l0.5 -2.2l0 4.8l0.5 0.4l0 -3.2l0.5 -1l0 4l0.5 0.1l0 -3.9l0.5 -0.6l0 3.9l0.5 -0.9l0 -3.5l0.5 0l0 3.4l0.5 1.1l0 -4l0.5 -1.1l0 3.1l0.5 0.3l0 -3.4l0.5 -1.5l0 5.1l0.5 0l0 -4.6l0.5 0.3l0 4.7l0.5 -2.3l0 -5.3l0.5 0.8l0 4.2l0.5 0.8l0 -4.1l0.5 -0.6l0 3.7l0.5 -0.7l0 -2.8l0.5 -2.5l0 6.8l0.5 0.1l0 -6.8l0.5 0.1l0 4.3l0.5 0.2l0 -4.3l0.5 0.8l0 3.9l0.5 0l0 -5.8l0.5 0.3l0 2.4l0.5 0.6l0 -2.4l0.5 -1.1l0 4.3l0.5 -0.8l0 -4.2l0.5 1.6l0 3.4l0.5 -2l0 -3.4l0.5 1.2l0 2.9l0.5 0.4l0 -4.9l0.5 -0.8l0 4.8l0.5 -0.4l0 -2.7l0.5 -2.2l0 4.6l0.5 -1.7l0 -3l0.5 -0.3l0 5l0.5 -1l0 -3.7l0.5 -1l0 5l0.5 -2.1l0 -4.5l0.5 1.6l0 3.2l0.5 -0.6l0 -2.4l0.5 -1.7l0 5.4l0.5 0.1l0 -4.5l0.5 -0.3l0 2.8l0.5 1.1l0 -4.1l0.5 -0.7l0 2.3l0.5 1.2l0 -3.9l0.5 -0.4l0 4l0.5 0.6l0 -4l0.5 -0.7l0 4.8l0.5 -0.1l0 -5.7l0.5 1.8l0 3.6l0.5 -2l0 -3.6l0.5 -0.8l0 5.3l0.5 -0.6l0 -4.7l0.5 0.3l0 6.4l0.5 -2l0 -5.2l0.5 0.7l0 3.1l0.5 0.6l0 -5.6l0.5 -0.1l0 6.9l0.5 -2.4l0 -3l0.5 -2l0 4.9l0.5 -0.1l0 -3.5l0.5 -1.2l0 5.5l0.5 -0.7l0 -5.2l0.5 1.3l0 3.7l0.5 0.4l0 -4.8l0.5 0.4l0 3.8l0.5 -2.2l0 -4.6l0.5 2.5l0 3.9l0.5 -0.5l0 -3.8l0.5 -1.3l0 5.9l0.5 -0.4l0 -6l0.5 -2.1l0 8.5l0.5 -1.1l0 -6.1l0.5 -1.3l0 6.4l0.5 -0.4l0 -4.4l0.5 -1.1l0 5l0.5 0.5l0 -8.3l0.5 2.6l0 4.9l0.5 2.1l0 -9.3l0.5 2l0 8.9l0.5 -3.8l0 -3.5l0.5 -4.4l0 7.7l0.5 1.1l0 -4.8l0.5 -0.7l0 4l0.5 -1l0 -3.7l0.5 0.2l0 5.7l0.5 -1.4l0 -6.7l0.5 2.2l0 3.4l0.5 0.4l0 -4.3l0.5 1.4l0 3.1l0.5 3.2l0 -6.7l0.5 -0.1l0 4.4l0.5 -1l0 -5.1l0.5 2.9l0 3.8l0.5 1.8l0 -7.7l0.5 2.6l0 3.5l0.5 -0.4l0 -4.1l0.5 1.8l0 5.4l0.5 -2.3l0 -2.6l0.5 -0.9l0 3.9l0.5 1.7l0 -3.2l0.5 -2.8l0 5.9l0.5 2.8l0 -8.1l0.5 0.5l0 5.7l0.5 2.7l0 -7.7l0.5 0.3l0 5.9l0.5 1.5l0 -7.3l0.5 0.4l0 5.6l0.5 1.5l0 -4.5l0.5 1.2l0 7.2l0.5 -2.5l0 -6.5l0.5 1.2l0 6.1l0.5 1.3l0 -5.5l0.5 -0.6l0 4.7l0.5 0l0 -7.3l0.5 2.7l0 5.7l0.5 0l0 -2.9l0.5 -1.1l0 5.3l0.5 0.1l0 -5.6l0.5 1.6l0 4.8l0.5 0.6l0 -5.2l0.5 2.6l0 1.9l0.5 2.4l0 -5.7l0.5 2.1l0 4.7l0.5 -1.6l0 -5.4l0.5 1.2l0 4.7l0.5 1.5l0 -5.9l0.5 2.3l0 6.7l0.5 0.3l0 -9l0.5 1.7l0 5.5l0.5 0.5l0 -4.7l0.5 2.1l0 3.8l0.5 -0.2l0 -5.1l0.5 -0.6l0 6l0.5 0.1l0 -5.2l0.5 1.6l0 3.2l0.5 -0.4l0 -2.1l0.5 1.2l0 3.4l0.5 1.6l0 -4.4l0.5 -0.4l0 4.9l0.5 0.9l0 -6.5l0.5 1.8l0 6.6l0.5 -1.3l0 -7.4l0.5 2.1l0 7.2l0.5 2.2l0 -6.8l0.5 1.5l0 3.9l0.5 2.6l0 -4.6l0.5 0.1l0 4l0.5 -0.3l0 -5.4l0.5 0.4l0 6.7l0.5 2.5l0 -9.3l0.5 3.1l0 4.7l0.5 0l0 -5.4l0.5 -0.4l0 6.4l0.5 1l0 -3.6l0.5 -0.8l0 5.8l0.5 -1.1l0 -3.6l0.5 0.7l0 4.7l0.5 -0.8l0 -3.3l0.5 -0.1l0 5.8l0.5 0.8l0 -6.2l0.5 2.6l0 2.2l0.5 1.2l0 -4.1l0.5 -0.9l0 7.2l0.5 -0.3l0 -3.8l0.5 -0.4l0 6.4l0.5 -2.1l0 -3.7l0.5 -0.5l0 6.1l0.5 0.4l0 -6.4l0.5 1.7l0 4.9l0.5 2.9l0 -8l0.5 2.1l0 5l0.5 1.4l0 -6.2l0.5 0.2l0 5.3l0.5 0l0 -2.6l0.5 -0.5l0 6.9l0.5 0.8l0 -6.4l0.5 1.1l0 3.7l0.5 0.2l0 -5.9l0.5 2.9l0 3.8l0.5 -0.2l0 -4.1l0.5 -0.2l0 6.9l0.5 0l0 -3.9l0.5 -0.5l0 3.8l0.5 3.5l0 -6.2l0.5 -0.1l0 8.7l0.5 -2.8l0 -4.2l0.5 0l0 4.7l0.5 2.2l0 -7.1l0.5 2.3l0 4.5l0.5 1.7l0 -4.1l0.5 -0.3l0 3l0.5 1.7l0 -2.8l0.5 0.2l0 3.5l0.5 -1.2l0 -3l0.5 0.7l0 4.9l0.5 0.5l0 -3.6l0.5 -0.7l0 3.9l0.5 3.1l0 -5.5l0.5 -0.9l0 7l0.5 1.6l0 -7.5l0.5 0.1l0 7.3l0.5 -1.4l0 -3.1l0.5 0.5l0 4.6l0.5 0.5l0 -3.2l0.5 0.2l0 3.5l0.5 1.2l0 -3.2l0.5 0.7l0 3l0.5 -0.3l0 -2.7l0.5 1.1l0 3.9l0.5 0.7l0 -5.2l0.5 0.2l0 4.5l0.5 1.8l0 -4.9l0.5 0.1l0 3.8l0.5 3l0 -5.6l0.5 -1.8l0 6.5l0.5 1.8l0 -4.7l0.5 1l0 2.3l0.5 1.1l0 -3l0.5 0.4l0 4.4l0.5 0.5l0 -4.9l0.5 2.8l0 4l0.5 -2.6l0 -3.1l0.5 1.1l0 3.9l0.5 2.4l0 -7.1l0.5 2.8l0 4.1l0.5 -1.1l0 -3l0.5 0.3l0 4.6l0.5 -0.3l0 -4.2l0.5 2.3l0 3.1l0.5 0.1l0 -4.4l0.5 1.6l0 2.4l0.5 3.3l0 -4.1l0.5 -1.5l0 4.9l0.5 0.6l0 -5.4l0.5 2.1l0 4l0.5 1.4l0 -4.6l0.5 -0.8l0 3.2l0.5 2.3l0 -4.8l0.5 0.9l0 3.8l0.5 2.7l0 -5.2l0.5 -0.2l0 4.2l0.5 1.1l0 -5.1l0.5 0.5l0 4.3l0.5 1.4l0 -4.3l0.5 -0.6l0 3.9l0.5 1.4l0 -3.4l0.5 -0.2l0 2.8l0.5 1.6l0 -3.7l0.5 0.9l0 4.6l0.5 0.5l0 -6.9l0.5 1.6l0 3.6l0.5 1.7l0 -2.6l0.5 -0.3l0 2l0.5 1.5l0 -2.4l0.5 -0.2l0 3.9l0.5 -0.7l0 -3.1l0.5 0.5l0 4.1l0.5 0.3l0 -4.6l0.5 0.7l0 3.4l0.5 0.2l0 -5.7l0.5 2.5l0 4.1l0.5 -0.4l0 -4.3l0.5 2.5l0 2.6l0.5 -0.7l0 -5.2l0.5 4.7l0 1.6l0.5 0.8l0 -4.8l0.5 1.2l0 5l0.5 -0.8l0 -6.6l0.5 3.6l0 4.3l0.5 -0.5l0 -4.8l0.5 0.5l0 4.9l0.5 -0.1l0 -4.6l0.5 1.2l0 4.2l0.5 -0.6l0 -3.6l0.5 1.4l0 4.6l0.5 -1.2l0 -3.5l0.5 0.4l0 4.8l0.5 -0.4l0 -3.6l0.5 0l0 5.4l0.5 -2l0 -1.9l0.5 -2l0 5.2l0.5 1l0 -4.7l0.5 1l0 6.4l0.5 -3.6l0 -2.7l0.5 0.8l0 3.9l0.5 0.2l0 -4.5l0.5 2.4l0 3.5l0.5 2.2l0 -7.2l0.5 1.7l0 5.2l0.5 -2.6l0 -3.2l0.5 1.1l0 4.6l0.5 1.3l0 -5l0.5 2l0 3.7l0.5 0.4l0 -3.2l0.5 -1.3l0 5.5l0.5 -0.5l0 -4.8l0.5 1l0 4.3l0.5 1l0 -5.7l0.5 2.7l0 3.2l0.5 -1.2l0 -3.6l0.5 -0.4l0 4.1l0.5 1.3l0 -4.3l0.5 0.8l0 2.6l0.5 0.9l0 -5.6l0.5 0.9l0 3.2l0.5 0.6l0 -2.4l0.5 -0.4l0 4.2l0.5 -0.6l0 -2.9l0.5 0.3l0 3.9l0.5 -1l0 -4.4l0.5 0.1l0 4.8l0.5 0.5l0 -4.8l0.5 1.8l0 3.4l0.5 -0.9l0 -2.2l0.5 -0.5l0 2.9l0.5 0.3l0 -4.3l0.5 0.4l0 4.7l0.5 0l0 -5.6l0.5 0.8l0 5.5l0.5 -1.6l0 -3.2l0.5 -0.4l0 4.3l0.5 0.3l0 -3.4l0.5 -1.5l0 3.9l0.5 1l0 -4.8l0.5 0.7l0 2l0.5 1.8l0 -3.6l0.5 -0.6l0 3.1l0.5 0.5l0 -4.7l0.5 0.5l0 3l0.5 0.6l0 -4.8l0.5 0.6l0 6.3l0.5 -1l0 -4.5l0.5 -2.1l0 6.4l0.5 -1.7l0 -4.4l0.5 -0.3l0 5l0.5 -1.4l0 -2.1l0.5 -1.5l0 3.7l0.5 -1.3l0 -2.6l0.5 -2.6l0 7l0.5 -1.2l0 -5.6l0.5 1.9l0 4.4l0.5 -2.4l0 -3.1l0.5 -0.4l0 4.2l0.5 -0.4l0 -4.4l0.5 0.5l0 4.5l0.5 -0.9l0 -3.5l0.5 -0.9l0 3.4l0.5 -1.2l0 -4.7l0.5 0.1l0 6.7l0.5 -3.4l0 -3.5l0.5 0.3l0 5.7l0.5 -2.2l0 -2.8l0.5 -1.3l0 4.3l0.5 -0.1l0 -6.5l0.5 0.2l0 4.6l0.5 -0.1l0 -5l0.5 1.5l0 4.6l0.5 -2.3l0 -3.2l0.5 -1.9l0 3.7l0.5 -0.3l0 -3.9l0.5 -0.5l0 5.1l0.5 -3.4l0 -2l0.5 -1.2l0 4.8l0.5 -0.5l0 -13.6l0.5 -2.9l0 16.9l0.5 -2l0 -13.4l0.5 -0.2l0 14.6l0.5 9.7l0 -30.2l0.5 5.5l0 19.9l0.5 -7.1l0 -21.2l0.5 5.1l0 25.7l0.5 -0.3l0 -30l0.5 -0.8l0 26.8l0.5 -3.3l0 -20.4l0.5 -5.5l0 26.5l0.5 2.6l0 -30.4l0.5 7.9l0 29.5l0.5 -7.3l0 -23.9l0.5 -0.2l0 25.7l0.5 -8l0 -19l0.5 -3.6l0 22.9l0.5 11.7l0 -38.3l0.5 -0.4l0 37.8l0.5 3.1l0 -37.5l0.5 1.7l0 20.5l0.5 6.2l0 -34.5l0.5 0.4l0 42.1l0.5 -10.9l0 -26.7l0.5 0.6l0 31.5l0.5 6.5l0 -41l0.5 2.1l0 25.5l0.5 9.9l0 -42l0.5 2.2l0 41.4l0.5 -8.4l0 -30.5l0.5 -5.6l0 31.5l0.5 14.1l0 -47.6l0.5 4.2l0 30.6l0.5 5.3l0 -40.8l0.5 4.2l0 39l0.5 -24.1l0 -6.1l0.5 -0.6l0 2.4l0.5 -1.3l0 -0.5l0.5 -2.5l0 4.8l0.5 0l0 -3.4l0.5 -0.3l0 2.8l0.5 -0.6l0 -3.7l0.5 -0.1l0 3.3l0.5 -0.2l0 -4.6l0.5 -2.5l0 7.6l0.5 -2.5l0 -3.6l0.5 -0.5l0 4.6l0.5 -1.3l0 -2.9l0.5 -1.9l0 5.4l0.5 -2.4l0 -7.4l0.5 3l0 6.3l0.5 -1.5l0 -4.7l0.5 0.7l0 2.7l0.5 0.2l0 -3.5l0.5 0l0 2.3l0.5 0.6l0 -3.1l0.5 -1.6l0 3.5l0.5 -2.1l0 -2.9l0.5 0.5l0 4.1l0.5 -0.6l0 -6l0.5 1.8l0 3.7l0.5 -1.2l0 -4.2l0.5 -1.3l0 2.8l0.5 1.7l0 -3.8l0.5 -2l0 5.2l0.5 -1.6l0 -2.1l0.5 -2.6l0 4.2l0.5 -0.7l0 -3l0.5 -0.6l0 3.8l0.5 0.4l0 -5.5l0.5 -0.3l0 4l0.5 -0.6l0 -4.3l0.5 -2l0 5.6l0.5 -1.1l0 -2.7l0.5 -0.2l0 3.7l0.5 0.4l0 -4.4l0.5 -2.4l0 5.6l0.5 -0.1l0 -4.8l0.5 -0.6l0 4.4l0.5 -1.2l0 -5.4l0.5 1.6l0 4.8l0.5 -1.8l0 -4l0.5 -1.1l0 4l0.5 0.9l0 -5.2l0.5 0.5l0 2.1l0.5 0.1l0 -4.4l0.5 -0.7l0 3.7l0.5 1l0 -3.6l0.5 -3.8l0 6.1l0.5 -1.1l0 -4.8l0.5 0.7l0 6.2l0.5 -2.7l0 -3.4l0.5 -3.2l0 4.7l0.5 0.1l0 -4.5l0.5 -1.3l0 5.9l0.5 -0.9l0 -4.5l0.5 -0.5l0 4.8l0.5 -0.2l0 -3.9l0.5 -2.2l0 3.5l0.5 1l0 -5.3l0.5 -0.2l0 3.7l0.5 -0.9l0 -2.4l0.5 -1.3l0 3.7l0.5 -0.5l0 -4.6l0.5 -0.8l0 4.6l0.5 0.8l0 -6.7l0.5 -0.3l0 5.1l0.5 -1.1l0 -4.3l0.5 1.1l0 3.2l0.5 -0.6l0 -3.6l0.5 0.7l0 4.4l0.5 -2.6l0 -2l0.5 -2.4l0 5.3l0.5 -0.2l0 -4.7l0.5 -2.1l0 7.4l0.5 -2l0 -3.9l0.5 -1.7l0 7.2l0.5 -3.2l0 -2.8l0.5 -0.7l0 5.2l0.5 -1l0 -5.9l0.5 1.2l0 4.4l0.5 1.3l0 -6.1l0.5 0.5l0 2.8l0.5 1.4l0 -4.6l0.5 -0.6l0 3.5l0.5 -0.8l0 -4.1l0.5 -1.2l0 4.5l0.5 1.8l0 -6.6l0.5 1.3l0 2.4l0.5 0.5l0 -4.5l0.5 -1.6l0 5.8l0.5 0.1l0 -4.5l0.5 -1.6l0 6.2l0.5 -0.7l0 -5.6l0.5 -0.1l0 5.7l0.5 -1l0 -2.8l0.5 -1.4l0 4.4l0.5 -1.1l0 -4l0.5 0.9l0 2.5l0.5 -0.1l0 -4.3l0.5 -0.6l0 5.7l0.5 0.4l0 -4.4l0.5 -1.1l0 6.5l0.5 -3.2l0 -5l0.5 -1.7l0 6.5l0.5 -0.8l0 -4.5l0.5 -1l0 5.2l0.5 1.4l0 -5.3l0.5 -0.6l0 3.8l0.5 0.8l0 -4.7l0.5 -1.4l0 3.9l0.5 -0.3l0 -3.6l0.5 0.9l0 3.3l0.5 1.6l0 -4.6l0.5 -1.9l0 5.4l0.5 -0.5l0 -4.7l0.5 -1.1l0 4.8l0.5 -0.5l0 -4.9l0.5 1.4l0 5l0.5 -2.1l0 -5.4l0.5 1.9l0 2.2l0.5 0.3l0 -3.9l0.5 1.2l0 2.6l0.5 -0.5l0 -2.9l0.5 -0.6l0 3l0.5 1.6l0 -6.9l0.5 2.8l0 2.4l0.5 0l0 -5.3l0.5 2.3l0 2.7l0.5 0l0 -4.6l0.5 0.7l0 5l0.5 -0.2l0 -5l0.5 0.8l0 2.8l0.5 0.4l0 -5.3l0.5 1.1l0 2.9l0.5 -0.5l0 -4.6l0.5 0.8l0 3.1l0.5 0.8l0 -5.6l0.5 -0.1l0 6.5l0.5 -2.1l0 -4.8l0.5 1.1l0 3.8l0.5 1l0 -4l0.5 -2l0 4.4l0.5 1.3l0 -6l0.5 1.1l0 3.8l0.5 0.6l0 -5.1l0.5 -0.2l0 3.4l0.5 -0.5l0 -4.2l0.5 1.2l0 4.9l0.5 -1l0 -6.3l0.5 0.8l0 4.3l0.5 1.2l0 -4.8l0.5 -2.9l0 6.6l0.5 -1l0 -5.2l0.5 -0.6l0 5.1l0.5 0.3l0 -2.9l0.5 -0.2l0 4.4l0.5 -1.4l0 -2.2l0.5 -0.3l0 2.3l0.5 0.1l0 -3.2l0.5 -0.7l0 3.8l0.5 0.8l0 -6.2l0.5 0.4l0 4.7l0.5 0.9l0 -6.8l0.5 2l0 3.9l0.5 -0.1l0 -6.5l0.5 2l0 7.1l0.5 -1.2l0 -8.8l0.5 3.4l0 3.2l0.5 0.6l0 -6.3l0.5 1.8l0 2.7l0.5 0.6l0 -6l0.5 -1.4l0 7.2l0.5 -1l0 -3.4l0.5 0.6l0 5.7l0.5 -1.9l0 -5.3l0.5 -0.7l0 4.5l0.5 1.8l0 -5.2l0.5 -3.7l0 6.9l0.5 0.2l0 -7l0.5 2.9l0 4.7l0.5 -0.2l0 -4.9l0.5 -1l0 5.3l0.5 -1.2l0 -3.1l0.5 -1.9l0 7.3l0.5 -3.3l0 -1.9l0.5 -1.1l0 4.9l0.5 0l0 -9.7l0.5 3.1l0 6.4l0.5 -1.7l0 -6l0.5 0.4l0 5.1l0.5 2l0 -4.8l0.5 -2l0 3.2l0.5 0.9l0 -4.8l0.5 -0.5l0 5.2l0.5 0.7l0 -5.3l0.5 0l0 7.4l0.5 -2.1l0 -8.4l0.5 2.3l0 5.4l0.5 0.8l0 -5.2l0.5 0l0 3.1l0.5 0.4l0 -4.1l0.5 0l0 5.7l0.5 -0.6l0 -5.9l0.5 1.4l0 4.1l0.5 1.6l0 -5.9l0.5 -0.5l0 5.2l0.5 -1.4l0 -4.9l0.5 3l0 3.9l0.5 -0.7l0 -5.5l0.5 1.2l0 6.2l0.5 -1.4l0 -3.8l0.5 0.8l0 5.7l0.5 1l0 -7l0.5 1.5l0 4l0.5 -0.7l0 -2.1l0.5 -2.1l0 8.6l0.5 -2.3l0 -2.5l0.5 -1.5l0 2.1l0.5 2.4l0 -4.1l0.5 0.1l0 4.9l0.5 1.9l0 -6.3l0.5 -0.6l0 6.7l0.5 -1.2l0 -4.7l0.5 0.1l0 6.3l0.5 -0.3l0 -4l0.5 1.6l0 3.3l0.5 0.2l0 -4.2l0.5 -0.9l0 5.3l0.5 2.1l0 -6.5l0.5 0.3l0 6l0.5 0.1l0 -6.8l0.5 1.4l0 5.3l0.5 1.7l0 -4.6l0.5 -1.9l0 3.8l0.5 3l0 -5.3l0.5 0.9l0 5.8l0.5 0.3l0 -6.5l0.5 1.3l0 5.8l0.5 -0.9l0 -4.8l0.5 -0.1l0 8.2l0.5 -2.2l0 -3l0.5 -1.6l0 7.7l0.5 -1.4l0 -6.3l0.5 1l0 4.8l0.5 0.5l0 -5.7l0.5 3.3l0 4.4l0.5 -2l0 -3.7l0.5 1.7l0 4.5l0.5 -1l0 -3.8l0.5 3.3l0 2.1l0.5 1.7l0 -6.8l0.5 1.8l0 3.9l0.5 1.3l0 -6.5l0.5 2.4l0 6.7l0.5 -1.9l0 -6.5l0.5 2.6l0 5.9l0.5 -1.4l0 -4.6l0.5 0.7l0 5.2l0.5 -0.4l0 -3.2l0.5 2.7l0 2.1l0.5 -1.3l0 -3.2l0.5 0.1l0 6l0.5 -0.8l0 -4.7l0.5 0.7l0 5.9l0.5 -0.2l0 -3.9l0.5 0.1l0 5.6l0.5 0.8l0 -4.1l0.5 -0.9l0 5l0.5 -0.5l0 -5.8l0.5 1.7l0 4.3l0.5 1.7l0 -4.6l0.5 2.9l0 2.9l0.5 1.5l0 -7.5l0.5 1l0 4.6l0.5 0.6l0 -2.8l0.5 0.1l0 3.2l0.5 0.3l0 -4l0.5 0.5l0 6l0.5 0.9l0 -5.9l0.5 -1.3l0 5.1l0.5 3.9l0 -5.4l0.5 -1.9l0 7.3l0.5 0.4l0 -7.4l0.5 1.8l0 5.1l0.5 0.9l0 -4.3l0.5 -0.9l0 7l0.5 -0.5l0 -3.8l0.5 1.2l0 1.3l0.5 1.2l0 -3.8l0.5 0.8l0 4.3l0.5 2l0 -4.6l0.5 -0.9l0 5.9l0.5 -1l0 -5.3l0.5 2.1l0 4.6l0.5 1.4l0 -5.6l0.5 -0.3l0 7l0.5 1l0 -4.5l0.5 -0.6l0 4.8l0.5 0.4l0 -6.1l0.5 1.4l0 3.9l0.5 1.3l0 -3.3l0.5 0.5l0 4l0.5 -1l0 -1.6l0.5 0.5l0 4l0.5 1.1l0 -5.4l0.5 -1l0 7.2l0.5 1.9l0 -6.5l0.5 1.1l0 4l0.5 0.9l0 -5.6l0.5 2.5l0 3.6l0.5 0.5l0 -3.4l0.5 0.4l0 3.6l0.5 1.6l0 -4.8l0.5 1.5l0 4.7l0.5 -1.8l0 -2.5l0.5 -0.1l0 4.1l0.5 -0.7l0 -2.4l0.5 0.7l0 5l0.5 -0.2l0 -6l0.5 3l0 5.5l0.5 -0.5l0 -5.7l0.5 1.8l0 4.8l0.5 -1.1l0 -4.1l0.5 -0.3l0 6.5l0.5 0.9l0 -3.6l0.5 -2.5l0 5.7l0.5 1.2l0 -6.5l0.5 3.3l0 3.4l0.5 0.2l0 -2.6l0.5 -1.5l0 4.5l0.5 2.2l0 -6.9l0.5 1.7l0 4.1l0.5 0.7l0 -2.1l0.5 -0.8l0 4.7l0.5 0.2l0 -5.2l0.5 1.8l0 3.7l0.5 1.9l0 -4.6l0.5 0.4l0 3.3l0.5 -0.1l0 -4l0.5 2.6l0 3.1l0.5 0.9l0 -4.8l0.5 -0.4l0 6.4l0.5 -1.6l0 -1.3l0.5 -0.4l0 3.5l0.5 1.2l0 -4.3l0.5 0.8l0 4.3l0.5 -0.4l0 -4l0.5 1.5l0 2.4l0.5 0.5l0 -3l0.5 0.1l0 3.3l0.5 2.9l0 -7.8l0.5 0.4l0 7.9l0.5 -2.5l0 -3.8l0.5 0.5l0 5.5l0.5 0.6l0 -4.6l0.5 0.7l0 5.3l0.5 -1.6l0 -2.5l0.5 -1.2l0 5.6l0.5 0.3l0 -3.6l0.5 -1.8l0 6.5l0.5 -1.6l0 -2.5l0.5 1l0 4l0.5 -0.2l0 -4.2l0.5 1l0 3.1l0.5 2l0 -4.3l0.5 -0.4l0 3.4l0.5 1.2l0 -2.8l0.5 0.2l0 4.3l0.5 0.5l0 -3.8l0.5 -1.1l0 3.9l0.5 -0.2l0 -3.3l0.5 0l0 4.8l0.5 1.6l0 -6.7l0.5 1.6l0 3.2l0.5 2.2l0 -4.3l0.5 -1.6l0 4.3l0.5 2.5l0 -3.6l0.5 -2l0 4.2l0.5 1.7l0 -4.3l0.5 -0.9l0 4.3l0.5 0.2l0 -5.5l0.5 2.4l0 4.1l0.5 0.1l0 -4.7l0.5 -1.3l0 7.4l0.5 0.4l0 -6l0.5 0.9l0 3.9l0.5 0l0 -4.3l0.5 2.3l0 5.4l0.5 -2.6l0 -3.7l0.5 1.5l0 3l0.5 0.5l0 -3.9l0.5 0.8l0 3.2l0.5 1.9l0 -3.2l0.5 0.1l0 2.5l0.5 1.2l0 -4.8l0.5 0.7l0 5l0.5 -0.3l0 -3.6l0.5 -0.5l0 3.4l0.5 1.1l0 -4.3l0.5 0.5l0 3.6l0.5 1.4l0 -3.3l0.5 0.7l0 4.7l0.5 0.6l0 -5.6l0.5 1.1l0 4.4l0.5 2.4l0 -4.8l0.5 0.6l0 2" fill="none" stroke="#f00" stroke-width="2.8" stroke-linejoin="round"/>
<path d="M126.6 386.4V384.4M127.1 386.3V383.6M128.6 386.1V382.4M134.6 388.9V384.5M136.6 393.7V395.7M137.1 390.8V388.1M138.1 390.2V387.5M139.6 389.5V386.7M140.1 389.8V386.8M142.1 393.9V397.3M143.1 389.9V387.2M145.1 391.4V394.6M147.6 386.8V383.4M150.1 389.7V392.3M152.1 386.4V388.8M155.1 383.5V385.4M156.1 382.9V386.8M157.1 376.6V372.7M158.1 375.5V371.4M159.6 379.2V383M160.1 372.5V370.4M161.1 372.2V370.5M165.6 366.3V362.6M166.1 365.5V362.5M167.6 369.3V372.5M172.1 362.4V365.5M173.1 362V365.1M177.6 352.9V350.1M183.1 348.7V345.1M184.1 351.1V352.9M185.1 344.5V340.6M187.6 345.7V348M188.1 341.2V337.4M191.1 339V336.3M192.1 341.5V343.6M193.1 336V334M193.6 336V333M194.1 339.9V343.2M194.6 338.2V341.5M197.6 334V337M200.1 332V335.8M202.1 329.8V331.7M205.6 324.9V328.8M208.6 322.5V326.6M209.6 320.2V323.2M211.6 314.2V311.2M213.1 310.4V307.3M218.1 311.1V314.5M218.6 311.6V314.8M226.6 301.3V299M230.1 298.2V294.5M232.1 301.3V304.1M234.1 300V304M240.1 293.5V290.3M242.6 289.4V287.8M243.6 294.4V297.8M244.1 290.4V286.5M245.6 290V286.3M246.6 292.3V294.8M247.6 288.8V285.8M250.1 286.9V282.8M251.1 286.7V284.5M252.6 285.7V283.8M253.1 289.6V293.7M254.1 288.5V292.1M254.6 288.6V292M256.1 282.8V279.9M260.1 280V278.5M260.6 284.5V289.6M261.1 284.9V291.4M261.6 286V294.8M262.1 279.3V277.2M263.6 280.7V278.1M264.1 279.8V271.4M265.1 279V276.7M266.1 278.8V270.6M267.1 281.9V290.2M268.1 283.6V286.6M268.6 274.2V268.3M269.1 276.5V269.2M269.6 280.2V283.8M271.1 282V289M271.6 282.8V290.3M272.1 277.4V274.9M275.6 278.6V287.1M277.1 273.4V268.9M278.1 274.4V265.9M278.6 278.5V287.3M279.1 271.1V269.2M280.1 273.3V270M280.6 277.2V284.1M281.1 276.9V279.3M281.6 272.5V263.6M282.1 277.3V284M282.6 272.5V268.1M284.1 273.5V266.1M284.6 273.7V266.5M286.6 280.2V285M288.6 277.9V274.2M289.6 282.4V289.6M290.6 280.7V272.4M291.6 285V286.7M292.1 277.9V271.8M292.6 281.2V274.5M293.6 286.2V289.8M294.1 281.7V276.1M294.6 281.3V277.7M295.1 283.1V274.2M295.6 281.8V274.2M298.6 293.5V301.1M299.6 290.5V295.3M301.1 287.9V285.4M301.6 293.9V299.1M303.6 296.8V303M305.6 294.7V286.7M307.1 296.4V288.2M309.6 299V290.2M312.1 306V312.9M313.1 301.2V298.7M314.1 304V295.3M315.1 309.7V317.7M315.6 306.2V300.4M316.6 313.1V316.2M317.1 312V317.7M317.6 306.8V298.5M321.1 312.1V306.8M321.6 313.2V305.6M323.1 320V322M323.6 320.8V327.8M324.1 316.8V308.3M325.1 318.3V309.4M325.6 321.9V326.3M326.1 318V314.7M327.1 320.9V318.1M327.6 326.8V334.2M328.1 322.7V319.6M328.6 322.8V317M329.1 325.1V316.8M329.6 324.6V317M332.1 327.2V323.2M332.6 331.4V334.3M333.6 329.2V326.2M334.6 335V338.5M335.1 338.4V340.6M336.1 333V328.7M339.1 341.2V343.2M341.6 341.6V338.3M343.6 344.4V342.8M345.1 345V340.8M345.6 350.4V353.3M348.1 347.4V345.7M349.1 350.4V345.9M352.1 355.4V353.5M353.1 359.3V362.4M354.6 360.9V365M358.6 362.1V358.6M359.1 365.3V368.3M362.6 363.7V361.1M363.6 370.4V374.8M364.6 371.8V375.3M374.1 378.1V382.2M377.6 381.4V383.5M379.1 382.8V385.8M379.6 379.2V377M380.6 380.5V377.6M384.1 385.6V381.7M385.1 389.5V393.8M386.6 391.3V393.1M387.1 386.8V382.4M389.6 390.9V393.9M391.6 393.3V395M392.6 386.5V382.8M395.1 389V384.6M396.1 393V396.7M399.1 388.7V386.9M404.6 391.7V393.9M405.1 393.4V395.4M405.6 386.3V383.2M407.6 390.9V394M408.6 389.2V390.8M410.6 384.9V382.6M414.6 379.2V376.3M416.1 381.9V385.7M416.6 381.1V384.8M418.6 379.1V382.9M419.6 374.4V370.9M422.1 375.5V378.2M423.1 374.1V377.4M423.6 369.9V366.2M425.1 368.1V366.4M425.6 367.8V363.9M426.6 368.5V372.7M427.6 363V360.9M428.1 368V371M433.6 361.4V363.3M437.1 354.8V352.9M439.1 354.3V357.6M439.6 354.5V357.2M440.6 348.2V343.8M441.6 348.1V345.7M444.6 343.2V341.6M448.1 345.5V347.4M449.6 340.3V336.9M450.6 343.7V346.1M456.1 332.9V329.6M457.1 331.1V327.9M458.1 334.3V338.6M461.6 327.2V323.5M465.1 325.8V330.1M468.1 321.3V324.2M470.1 315.1V312M477.6 311.3V314.9M478.1 307.7V303.9M481.6 303.8V300M482.1 303.7V300M483.6 307.5V309.8M493.6 296V292.1M496.1 291.8V289.6M499.1 291.9V289.9M500.6 291.3V288.2M502.1 295.3V299.8M503.1 288.6V286.2M504.6 289V287.4M507.6 285.8V282.7M509.1 289.9V293.9M511.1 288.6V292.7M512.6 287.7V289.6M515.1 281.7V279.4M517.1 280.3V278.5M521.1 279.1V275M523.6 281.9V289.4M524.1 283.8V290.1M525.6 281V287.6M526.6 279.9V287.7M529.6 275.2V272.4M530.1 279.3V288.1M530.6 272.5V267.2M531.1 278.9V285.5M531.6 274.7V271.9M532.1 279.2V283.6M533.6 272V267.1M536.1 271V263.1M536.6 278V283.4M540.1 270.8V266.1M540.6 268.3V265.3M541.6 270V267.2M542.1 271.5V266.5M543.6 274.3V276.8M544.1 275.9V279.6M544.6 270V267.3M545.1 276.1V280.5M546.1 278.8V287.6M547.1 273V271.4M547.6 278.6V286.6M548.6 281.3V289.4M549.1 279.4V282.2M549.6 274.4V272.3M550.1 280.6V284.8M550.6 282.2V288.9M551.1 275.2V267.5M551.6 277.9V272.8M552.1 279V270.8M552.6 283.7V288.9M553.1 278.4V270.9M554.1 284.4V289.1M556.1 281.5V280M558.6 284.3V277.2M559.1 291.1V297.2M560.1 290V294.7M562.1 287.6V281.1M562.6 293.6V295.4M563.6 289.5V286.2M564.1 288.9V285.3M564.6 295V303.6M565.1 291.4V287.4M566.1 296.7V305.5M566.6 298.3V303M567.1 298.4V306.3M567.6 292.8V290.1M568.1 294.7V288.9M568.6 292.5V284.9M569.1 294.6V289.3M569.6 297.2V292.6M571.6 299.1V292M572.1 306.1V308M573.1 307.1V314.3M574.1 307.7V309.7M575.6 305.4V301.7M576.1 306.1V304.4M577.1 312.4V315M577.6 313.3V321.6M578.1 311.8V316.9M579.1 315.2V322.1M579.6 311.1V306.8M580.1 310.7V308.7M581.1 310.8V307.1M582.1 312.6V309.8M582.6 320.4V325.8M584.1 320.2V324.4M584.6 320.2V322.8M585.1 317.2V312.1M588.1 319.7V311M589.6 329.5V336M594.1 334.4V336.8M595.1 331V328.6M597.6 341.2V344.3M599.1 337.1V333.1M600.6 343.9V347.7M602.6 347.1V350.7M603.1 346.6V350.7M603.6 348.4V352M606.1 347.6V344.8M608.6 352.6V355.6M611.1 352.9V349.2M613.6 357.3V355.1M614.6 361.4V363.9M615.1 358V356M617.6 360.9V358.2M619.1 361.4V357.2M620.6 364.2V361.4M621.6 364.6V362.3M622.1 370.1V372.9M623.1 368.9V371.2M623.6 370.6V373.4M624.1 369.7V372M624.6 371.3V375M627.6 367.6V363.2M629.1 374.6V378.1M629.6 368.7V366.8M631.6 369.8V365.5M632.6 372.4V370.1M633.1 372.9V371.1M634.1 378.5V381.6M635.6 375.7V372.5M638.1 376.3V374.4M639.1 385.2V388.3M644.6 386.2V382.7M646.1 390.4V392.9M646.6 385.7V382.2M647.6 386.8V383M651.1 392.3V394.7M651.6 391.7V395.6M652.6 392V394.9M654.6 392.6V395.4M655.1 389.8V385.8M657.1 394.5V397.6M657.6 389.7V385.3M661.1 389.4V386.4M662.1 388.8V386.1M662.6 387.6V383.8M664.1 393.3V395.4M670.1 384.7V380.2M670.6 384.7V382.5M673.1 381.5V377.5M674.6 385.1V389.3M683.1 370.4V367M684.6 372V376.2M687.1 370.1V372.2M699.6 354.8V356.4M700.6 349.6V347.3M710.6 338.6V334.5M712.1 341.2V344.2M714.1 338.6V342.2M715.6 336.6V339.9M718.6 329.9V327.3M719.6 327.1V324.8M720.1 328.8V325.8M722.1 329V332.4M723.1 327.6V331.2M723.6 325V321.5M729.6 321V324.7M731.6 317.8V321.6M740.6 312.5V315.8M741.1 306.9V303.5M742.6 304.5V301M743.6 303V299.3M744.1 306.8V308.4M744.6 302.7V298.4M745.1 306.9V309.7M748.1 301.2V297.1M753.6 302.9V305.3M758.1 298.7V300.3M758.6 293.3V291M763.1 293V290.3M763.6 290.1V286.8M765.6 291V286.9M766.1 294.6V296.6M766.6 295V297.3M767.1 293.7V297M768.1 289.4V285.7M770.6 293.1V297.3M771.1 291.5V294M771.6 286.8V282.6M776.6 283.6V280.1M778.6 288.2V292.5M780.1 288V293.1M780.6 282.6V277.6M781.1 283V274.8M781.6 281.9V276.9M782.6 281.1V278.1M783.1 283.1V279.9M784.6 281.2V277.3M785.6 286.2V288.5M787.1 282.2V279.8M788.6 281.1V272.8M790.1 280.4V278.3M790.6 284.9V292.6M791.1 284.3V292.5M794.6 276.2V267.8M795.1 276.6V273.9M797.1 275.6V268.8M797.6 276.2V269.4M800.1 276.4V272.4M800.6 275.8V274M801.6 275V269.9M803.1 275.7V271.9M804.1 277.7V270M805.6 277.5V269.9M806.1 284V291.8M807.1 279.5V271.6M807.6 280.7V277.5M809.1 283V290.4M809.6 285.4V292.8M810.1 281.4V275.8M811.6 282.2V275.4M812.1 282.3V275.8M812.6 284.2V280.1M813.1 285.8V277.3M813.6 285.1V281.6M814.6 285.2V283.4M815.6 284.7V281.9M817.6 288.2V281.9M818.6 288.6V283.5M819.1 295.7V301M820.1 298.1V301.6M820.6 295.9V299.5M821.1 291.3V286.5M821.6 297.6V306.2M822.1 292.3V286.6M823.1 295.3V293.5M825.1 298.6V296.8M826.6 296.1V291.2M827.1 298.5V291M827.6 303.3V306.7M828.1 299.4V294.4M829.1 305.2V311.2M830.1 306.4V309.5M831.1 302V300.2M831.6 307.2V310.8M833.1 305.1V299.9M833.6 307.5V300.3M835.6 308.3V303.6M836.1 314.1V322.7M837.6 314.3V320.7M838.1 311.6V303.5M838.6 311.1V305.2M839.1 311.7V310M839.6 312.7V305.5M840.1 311.3V307.7M840.6 314.9V307.4M841.1 313V306.6M842.1 315.1V307.9M843.1 315.9V308.2M844.1 319.8V311.7M844.6 322.3V330.8M847.6 327.8V335.6M848.1 328.9V336.7M849.1 324.8V321.3M850.1 329.2V331.8M855.6 337.9V341.3M860.6 339.9V338.3M863.1 342.3V338.3M868.1 350.4V347.2M872.1 355.5V352.2M878.1 361.2V358.7M878.6 364.9V369.4M881.6 368.9V371.4M883.6 370.7V374.9M888.6 372.4V368.4M890.1 371.1V367.7M894.1 380.8V385.1M895.6 375.5V372M897.6 377.3V372.8M901.1 381.6V377.1M901.6 387V388.7M902.1 386.8V390.6" fill="none" stroke="#f00" stroke-width="1.1"/>
<path d="M125.1 643.2V15.8H903.3M125.1 643.2H903.3" fill="none" stroke="#000" stroke-width="2.2" stroke-linecap="square"/><path d="M125.1 643.2v12.3M164 643.2v5.6M202.9 643.2v12.3M241.8 643.2v5.6M280.7 643.2v12.3M319.6 643.2v5.6M358.6 643.2v12.3M397.5 643.2v5.6M436.4 643.2v12.3M475.3 643.2v5.6M514.2 643.2v12.3M553.1 643.2v5.6M592 643.2v12.3M630.9 643.2v5.6M669.8 643.2v12.3M708.8 643.2v5.6M747.7 643.2v12.3M786.6 643.2v5.6M825.5 643.2v12.3M864.4 643.2v5.6M903.3 643.2v12.3M164 15.8v5.6M202.9 15.8v12.3M241.8 15.8v5.6M280.7 15.8v12.3M319.6 15.8v5.6M358.6 15.8v12.3M397.5 15.8v5.6M436.4 15.8v12.3M475.3 15.8v5.6M514.2 15.8v12.3M553.1 15.8v5.6M592 15.8v12.3M630.9 15.8v5.6M669.8 15.8v12.3M708.8 15.8v5.6M747.7 15.8v12.3M786.6 15.8v5.6M825.5 15.8v12.3M864.4 15.8v5.6M125.1 630.3h-6.0M125.1 596.9h-12.8M125.1 563.5h-6.0M125.1 530.1h-12.8M125.1 496.8h-6.0M125.1 463.4h-12.8M125.1 430h-6.0M125.1 396.6h-12.8M125.1 363.2h-6.0M125.1 329.9h-12.8M125.1 296.5h-6.0M125.1 263.1h-12.8M125.1 229.7h-6.0M125.1 196.3h-12.8M125.1 163h-6.0M125.1 129.6h-12.8M125.1 96.2h-6.0M125.1 62.8h-12.8M125.1 29.4h-6.0" stroke="#000" stroke-width="2.2"/><path d="M903.3 15.8V643.2M903.3 643.2h-12.4M903.3 590.9h-6.2M903.3 538.6h-12.4M903.3 486.4h-6.2M903.3 434.1h-12.4M903.3 381.8h-6.2M903.3 329.5h-12.4M903.3 277.2h-6.2M903.3 224.9h-12.4M903.3 172.6h-6.2M903.3 120.4h-12.4M903.3 68.1h-6.2M903.3 15.8h-12.4" stroke="#f00" stroke-width="2.2" fill="none"/>
<g style="font-family:'Liberation Serif','Times New Roman',serif;font-size:39px" fill="#000"><text x="103.3" y="607.9" text-anchor="end">-4</text><text x="103.3" y="541.1" text-anchor="end">-3</text><text x="103.3" y="474.4" text-anchor="end">-2</text><text x="103.3" y="407.6" text-anchor="end">-1</text><text x="103.3" y="340.9" text-anchor="end">0</text><text x="103.3" y="274.1" text-anchor="end">1</text><text x="103.3" y="207.3" text-anchor="end">2</text><text x="103.3" y="140.6" text-anchor="end">3</text><text x="103.3" y="73.8" text-anchor="end">4</text><text x="125.1" y="693.5" text-anchor="middle">0</text><text x="202.9" y="693.5" text-anchor="middle">10</text><text x="280.7" y="693.5" text-anchor="middle">20</text><text x="358.6" y="693.5" text-anchor="middle">30</text><text x="436.4" y="693.5" text-anchor="middle">40</text><text x="514.2" y="693.5" text-anchor="middle">50</text><text x="592" y="693.5" text-anchor="middle">60</text><text x="669.8" y="693.5" text-anchor="middle">70</text><text x="747.7" y="693.5" text-anchor="middle">80</text><text x="825.5" y="693.5" text-anchor="middle">90</text><text x="903.3" y="693.5" text-anchor="middle">100</text></g>
<g style="font-family:'Liberation Serif','Times New Roman',serif;font-size:39px" fill="#f00"><text x="915.5" y="654">-60</text><text x="915.5" y="549.4">-40</text><text x="915.5" y="444.9">-20</text><text x="915.5" y="340.3">0</text><text x="915.5" y="235.7">20</text><text x="915.5" y="131.2">40</text><text x="915.5" y="26.6">60</text></g>
<g style="font-family:'Liberation Serif','Times New Roman',serif;font-size:45px">
<text x="426.1" y="766.3" fill="#000">Time (&#956;s)</text>
<text transform="translate(32.8 435.6) rotate(-90)" fill="#000" style="font-size:45.6px">Voltage (kV)</text>
<text transform="translate(1014.5 451.7) rotate(-90)" fill="#f00">Current (mA)</text>
</g>
<rect x="151.4" y="31.7" width="417" height="41.5" fill="#fff" stroke="#000" stroke-width="1.5"/>
<path d="M155 52.6H221.3" stroke="#000" stroke-width="2.2"/>
<path d="M366.9 52.6H434.1" stroke="#f00" stroke-width="2.2"/>
<g style="font-family:'Liberation Mono','Courier New',monospace;font-size:32.6px" fill="#1a1a1a"><text transform="translate(237.8 63.6) scale(0.828 1)">Voltage</text><text transform="translate(449.6 63.6) scale(0.828 1)">Current</text></g>
</svg>
</body></html>
